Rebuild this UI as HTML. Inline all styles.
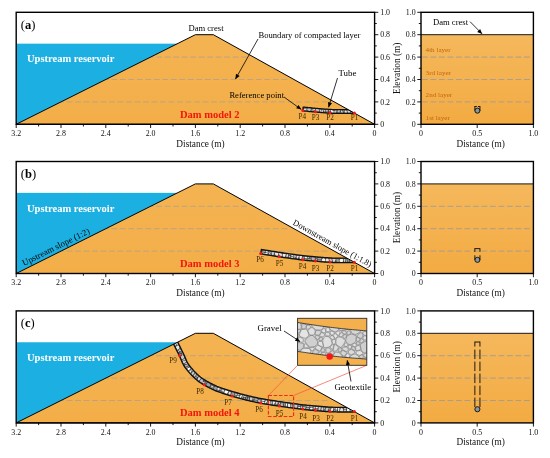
<!DOCTYPE html>
<html><head><meta charset="utf-8"><title>Dam models</title>
<style>html,body{margin:0;padding:0;background:#fff;}svg{display:block;}</style></head>
<body>
<svg width="550" height="458" viewBox="0 0 550 458" font-family="'Liberation Serif', 'Times New Roman', serif">
<defs>
<linearGradient id="og" x1="0" y1="0" x2="0" y2="1"><stop offset="0" stop-color="#f5b85c"/><stop offset="1" stop-color="#f3ab42"/></linearGradient>
<linearGradient id="og2" x1="0" y1="0" x2="0" y2="1"><stop offset="0" stop-color="#f4b352"/><stop offset="1" stop-color="#f3ae48"/></linearGradient>
<marker id="ah" viewBox="0 0 10 10" refX="9.5" refY="5" markerWidth="6.8" markerHeight="5" orient="auto" markerUnits="userSpaceOnUse"><path d="M0,0.8 L10,5 L0,9.2 Z" fill="#000"/></marker>
</defs>
<rect width="550" height="458" fill="#fff"/>
<rect x="16.2" y="43.66" width="161.28" height="80.64" fill="#1cb0e2"/>
<clipPath id="dam0"><polygon points="16.20,124.30 195.40,34.70 213.32,34.70 374.60,124.30"/></clipPath>
<polygon points="16.20,124.30 195.40,34.70 213.32,34.70 374.60,124.30" fill="url(#og2)"/>
<line x1="58.10" y1="101.90" x2="329.92" y2="101.90" stroke="#a8a096" stroke-width="0.75" stroke-dasharray="5.8 2.7" clip-path="url(#dam0)"/>
<line x1="102.90" y1="79.50" x2="289.60" y2="79.50" stroke="#a8a096" stroke-width="0.75" stroke-dasharray="5.8 2.7" clip-path="url(#dam0)"/>
<line x1="147.70" y1="57.10" x2="249.28" y2="57.10" stroke="#a8a096" stroke-width="0.75" stroke-dasharray="5.8 2.7" clip-path="url(#dam0)"/>
<rect x="421.0" y="34.70" width="112.40" height="89.60" fill="url(#og)"/>
<line x1="421.0" y1="34.70" x2="533.4" y2="34.70" stroke="#000" stroke-width="0.9"/>
<line x1="422.0" y1="101.90" x2="532.4" y2="101.90" stroke="#a09c96" stroke-width="0.9" stroke-dasharray="5.8 2.7"/>
<line x1="422.0" y1="79.50" x2="532.4" y2="79.50" stroke="#a09c96" stroke-width="0.9" stroke-dasharray="5.8 2.7"/>
<line x1="422.0" y1="57.10" x2="532.4" y2="57.10" stroke="#a09c96" stroke-width="0.9" stroke-dasharray="5.8 2.7"/>
<rect x="421.0" y="12.3" width="112.40" height="112.0" fill="none" stroke="#000" stroke-width="1.4"/>
<line x1="421.00" y1="124.3" x2="421.00" y2="128.0" stroke="#000" stroke-width="0.9"/>
<text x="421.00" y="135.90" font-size="7.9" text-anchor="middle" fill="#111" font-weight="normal" >0</text>
<line x1="477.20" y1="124.3" x2="477.20" y2="128.0" stroke="#000" stroke-width="0.9"/>
<text x="477.20" y="135.90" font-size="7.9" text-anchor="middle" fill="#111" font-weight="normal" >0.5</text>
<line x1="533.40" y1="124.3" x2="533.40" y2="128.0" stroke="#000" stroke-width="0.9"/>
<text x="533.40" y="135.90" font-size="7.9" text-anchor="middle" fill="#111" font-weight="normal" >1.0</text>
<line x1="417.3" y1="124.30" x2="421.0" y2="124.30" stroke="#000" stroke-width="0.9"/>
<text x="415.60" y="127.00" font-size="7.9" text-anchor="end" fill="#111" font-weight="normal" >0</text>
<line x1="418.8" y1="113.10" x2="421.0" y2="113.10" stroke="#000" stroke-width="0.9"/>
<line x1="417.3" y1="101.90" x2="421.0" y2="101.90" stroke="#000" stroke-width="0.9"/>
<text x="415.60" y="104.60" font-size="7.9" text-anchor="end" fill="#111" font-weight="normal" >0.2</text>
<line x1="418.8" y1="90.70" x2="421.0" y2="90.70" stroke="#000" stroke-width="0.9"/>
<line x1="417.3" y1="79.50" x2="421.0" y2="79.50" stroke="#000" stroke-width="0.9"/>
<text x="415.60" y="82.20" font-size="7.9" text-anchor="end" fill="#111" font-weight="normal" >0.4</text>
<line x1="418.8" y1="68.30" x2="421.0" y2="68.30" stroke="#000" stroke-width="0.9"/>
<line x1="417.3" y1="57.10" x2="421.0" y2="57.10" stroke="#000" stroke-width="0.9"/>
<text x="415.60" y="59.80" font-size="7.9" text-anchor="end" fill="#111" font-weight="normal" >0.6</text>
<line x1="418.8" y1="45.90" x2="421.0" y2="45.90" stroke="#000" stroke-width="0.9"/>
<line x1="417.3" y1="34.70" x2="421.0" y2="34.70" stroke="#000" stroke-width="0.9"/>
<text x="415.60" y="37.40" font-size="7.9" text-anchor="end" fill="#111" font-weight="normal" >0.8</text>
<line x1="418.8" y1="23.50" x2="421.0" y2="23.50" stroke="#000" stroke-width="0.9"/>
<line x1="417.3" y1="12.30" x2="421.0" y2="12.30" stroke="#000" stroke-width="0.9"/>
<text x="415.60" y="15.00" font-size="7.9" text-anchor="end" fill="#111" font-weight="normal" >1.0</text>
<text x="480.70" y="146.70" font-size="9.3" text-anchor="middle" fill="#111" font-weight="normal" >Distance (m)</text>
<rect x="16.2" y="192.86" width="161.28" height="80.64" fill="#1cb0e2"/>
<clipPath id="dam1"><polygon points="16.20,273.50 195.40,183.90 213.32,183.90 374.60,273.50"/></clipPath>
<polygon points="16.20,273.50 195.40,183.90 213.32,183.90 374.60,273.50" fill="url(#og2)"/>
<line x1="58.10" y1="251.10" x2="329.92" y2="251.10" stroke="#a8a096" stroke-width="0.75" stroke-dasharray="5.8 2.7" clip-path="url(#dam1)"/>
<line x1="102.90" y1="228.70" x2="289.60" y2="228.70" stroke="#a8a096" stroke-width="0.75" stroke-dasharray="5.8 2.7" clip-path="url(#dam1)"/>
<line x1="147.70" y1="206.30" x2="249.28" y2="206.30" stroke="#a8a096" stroke-width="0.75" stroke-dasharray="5.8 2.7" clip-path="url(#dam1)"/>
<rect x="421.0" y="183.90" width="112.40" height="89.60" fill="url(#og)"/>
<line x1="421.0" y1="183.90" x2="533.4" y2="183.90" stroke="#000" stroke-width="0.9"/>
<line x1="422.0" y1="251.10" x2="532.4" y2="251.10" stroke="#a09c96" stroke-width="0.9" stroke-dasharray="5.8 2.7"/>
<line x1="422.0" y1="228.70" x2="532.4" y2="228.70" stroke="#a09c96" stroke-width="0.9" stroke-dasharray="5.8 2.7"/>
<line x1="422.0" y1="206.30" x2="532.4" y2="206.30" stroke="#a09c96" stroke-width="0.9" stroke-dasharray="5.8 2.7"/>
<rect x="421.0" y="161.5" width="112.40" height="112.0" fill="none" stroke="#000" stroke-width="1.4"/>
<line x1="421.00" y1="273.5" x2="421.00" y2="277.2" stroke="#000" stroke-width="0.9"/>
<text x="421.00" y="285.10" font-size="7.9" text-anchor="middle" fill="#111" font-weight="normal" >0</text>
<line x1="477.20" y1="273.5" x2="477.20" y2="277.2" stroke="#000" stroke-width="0.9"/>
<text x="477.20" y="285.10" font-size="7.9" text-anchor="middle" fill="#111" font-weight="normal" >0.5</text>
<line x1="533.40" y1="273.5" x2="533.40" y2="277.2" stroke="#000" stroke-width="0.9"/>
<text x="533.40" y="285.10" font-size="7.9" text-anchor="middle" fill="#111" font-weight="normal" >1.0</text>
<line x1="417.3" y1="273.50" x2="421.0" y2="273.50" stroke="#000" stroke-width="0.9"/>
<text x="415.60" y="276.20" font-size="7.9" text-anchor="end" fill="#111" font-weight="normal" >0</text>
<line x1="418.8" y1="262.30" x2="421.0" y2="262.30" stroke="#000" stroke-width="0.9"/>
<line x1="417.3" y1="251.10" x2="421.0" y2="251.10" stroke="#000" stroke-width="0.9"/>
<text x="415.60" y="253.80" font-size="7.9" text-anchor="end" fill="#111" font-weight="normal" >0.2</text>
<line x1="418.8" y1="239.90" x2="421.0" y2="239.90" stroke="#000" stroke-width="0.9"/>
<line x1="417.3" y1="228.70" x2="421.0" y2="228.70" stroke="#000" stroke-width="0.9"/>
<text x="415.60" y="231.40" font-size="7.9" text-anchor="end" fill="#111" font-weight="normal" >0.4</text>
<line x1="418.8" y1="217.50" x2="421.0" y2="217.50" stroke="#000" stroke-width="0.9"/>
<line x1="417.3" y1="206.30" x2="421.0" y2="206.30" stroke="#000" stroke-width="0.9"/>
<text x="415.60" y="209.00" font-size="7.9" text-anchor="end" fill="#111" font-weight="normal" >0.6</text>
<line x1="418.8" y1="195.10" x2="421.0" y2="195.10" stroke="#000" stroke-width="0.9"/>
<line x1="417.3" y1="183.90" x2="421.0" y2="183.90" stroke="#000" stroke-width="0.9"/>
<text x="415.60" y="186.60" font-size="7.9" text-anchor="end" fill="#111" font-weight="normal" >0.8</text>
<line x1="418.8" y1="172.70" x2="421.0" y2="172.70" stroke="#000" stroke-width="0.9"/>
<line x1="417.3" y1="161.50" x2="421.0" y2="161.50" stroke="#000" stroke-width="0.9"/>
<text x="415.60" y="164.20" font-size="7.9" text-anchor="end" fill="#111" font-weight="normal" >1.0</text>
<text x="480.70" y="295.90" font-size="9.3" text-anchor="middle" fill="#111" font-weight="normal" >Distance (m)</text>
<rect x="16.2" y="342.26" width="161.28" height="80.64" fill="#1cb0e2"/>
<clipPath id="dam2"><polygon points="16.20,422.90 195.40,333.30 213.32,333.30 374.60,422.90"/></clipPath>
<polygon points="16.20,422.90 195.40,333.30 213.32,333.30 374.60,422.90" fill="url(#og2)"/>
<line x1="58.10" y1="400.50" x2="329.92" y2="400.50" stroke="#a8a096" stroke-width="0.75" stroke-dasharray="5.8 2.7" clip-path="url(#dam2)"/>
<line x1="102.90" y1="378.10" x2="289.60" y2="378.10" stroke="#a8a096" stroke-width="0.75" stroke-dasharray="5.8 2.7" clip-path="url(#dam2)"/>
<line x1="147.70" y1="355.70" x2="249.28" y2="355.70" stroke="#a8a096" stroke-width="0.75" stroke-dasharray="5.8 2.7" clip-path="url(#dam2)"/>
<rect x="421.0" y="333.30" width="112.40" height="89.60" fill="url(#og)"/>
<line x1="421.0" y1="333.30" x2="533.4" y2="333.30" stroke="#000" stroke-width="0.9"/>
<line x1="422.0" y1="400.50" x2="532.4" y2="400.50" stroke="#a09c96" stroke-width="0.9" stroke-dasharray="5.8 2.7"/>
<line x1="422.0" y1="378.10" x2="532.4" y2="378.10" stroke="#a09c96" stroke-width="0.9" stroke-dasharray="5.8 2.7"/>
<line x1="422.0" y1="355.70" x2="532.4" y2="355.70" stroke="#a09c96" stroke-width="0.9" stroke-dasharray="5.8 2.7"/>
<rect x="421.0" y="310.9" width="112.40" height="112.0" fill="none" stroke="#000" stroke-width="1.4"/>
<line x1="421.00" y1="422.9" x2="421.00" y2="426.59999999999997" stroke="#000" stroke-width="0.9"/>
<text x="421.00" y="434.50" font-size="7.9" text-anchor="middle" fill="#111" font-weight="normal" >0</text>
<line x1="477.20" y1="422.9" x2="477.20" y2="426.59999999999997" stroke="#000" stroke-width="0.9"/>
<text x="477.20" y="434.50" font-size="7.9" text-anchor="middle" fill="#111" font-weight="normal" >0.5</text>
<line x1="533.40" y1="422.9" x2="533.40" y2="426.59999999999997" stroke="#000" stroke-width="0.9"/>
<text x="533.40" y="434.50" font-size="7.9" text-anchor="middle" fill="#111" font-weight="normal" >1.0</text>
<line x1="417.3" y1="422.90" x2="421.0" y2="422.90" stroke="#000" stroke-width="0.9"/>
<text x="415.60" y="425.60" font-size="7.9" text-anchor="end" fill="#111" font-weight="normal" >0</text>
<line x1="418.8" y1="411.70" x2="421.0" y2="411.70" stroke="#000" stroke-width="0.9"/>
<line x1="417.3" y1="400.50" x2="421.0" y2="400.50" stroke="#000" stroke-width="0.9"/>
<text x="415.60" y="403.20" font-size="7.9" text-anchor="end" fill="#111" font-weight="normal" >0.2</text>
<line x1="418.8" y1="389.30" x2="421.0" y2="389.30" stroke="#000" stroke-width="0.9"/>
<line x1="417.3" y1="378.10" x2="421.0" y2="378.10" stroke="#000" stroke-width="0.9"/>
<text x="415.60" y="380.80" font-size="7.9" text-anchor="end" fill="#111" font-weight="normal" >0.4</text>
<line x1="418.8" y1="366.90" x2="421.0" y2="366.90" stroke="#000" stroke-width="0.9"/>
<line x1="417.3" y1="355.70" x2="421.0" y2="355.70" stroke="#000" stroke-width="0.9"/>
<text x="415.60" y="358.40" font-size="7.9" text-anchor="end" fill="#111" font-weight="normal" >0.6</text>
<line x1="418.8" y1="344.50" x2="421.0" y2="344.50" stroke="#000" stroke-width="0.9"/>
<line x1="417.3" y1="333.30" x2="421.0" y2="333.30" stroke="#000" stroke-width="0.9"/>
<text x="415.60" y="336.00" font-size="7.9" text-anchor="end" fill="#111" font-weight="normal" >0.8</text>
<line x1="418.8" y1="322.10" x2="421.0" y2="322.10" stroke="#000" stroke-width="0.9"/>
<line x1="417.3" y1="310.90" x2="421.0" y2="310.90" stroke="#000" stroke-width="0.9"/>
<text x="415.60" y="313.60" font-size="7.9" text-anchor="end" fill="#111" font-weight="normal" >1.0</text>
<text x="480.70" y="445.30" font-size="9.3" text-anchor="middle" fill="#111" font-weight="normal" >Distance (m)</text>
<g clip-path="url(#dam0)">
<polygon points="303.13,107.07 303.88,107.14 304.83,107.23 305.95,107.34 307.21,107.46 308.57,107.59 310.01,107.73 311.48,107.87 312.96,108.01 314.41,108.14 315.80,108.26 317.19,108.38 318.63,108.51 320.10,108.64 321.59,108.77 323.08,108.90 324.57,109.02 326.04,109.13 327.47,109.24 328.86,109.33 330.18,109.40 331.45,109.47 332.68,109.51 333.87,109.55 335.03,109.58 336.18,109.60 337.33,109.62 338.48,109.63 339.64,109.63 340.82,109.64 342.02,109.65 343.26,109.66 344.53,109.66 345.83,109.66 347.14,109.65 348.45,109.64 349.74,109.63 350.99,109.62 352.19,109.61 353.33,109.61 354.38,109.60 355.37,109.59 356.33,109.59 357.25,109.58 358.13,109.58 358.95,109.57 359.71,109.57 360.40,109.56 361.02,109.56 361.54,109.55 361.98,109.55 362.00,113.35 361.57,113.35 361.05,113.36 360.43,113.36 359.74,113.37 358.98,113.37 358.15,113.38 357.27,113.38 356.35,113.39 355.39,113.39 354.40,113.40 353.35,113.41 352.22,113.41 351.02,113.42 349.77,113.43 348.48,113.44 347.16,113.45 345.84,113.46 344.53,113.46 343.24,113.46 342.00,113.45 340.79,113.44 339.61,113.43 338.45,113.43 337.29,113.41 336.13,113.40 334.95,113.38 333.76,113.35 332.54,113.31 331.28,113.26 329.98,113.20 328.62,113.12 327.21,113.03 325.75,112.92 324.27,112.81 322.76,112.68 321.26,112.56 319.77,112.43 318.29,112.30 316.86,112.17 315.47,112.05 314.07,111.93 312.61,111.79 311.12,111.65 309.65,111.51 308.21,111.38 306.85,111.24 305.59,111.12 304.46,111.01 303.51,110.92 302.77,110.85" fill="#484848"/>
<g>
<path d="M304.2,110.3Q305.0,110.5 305.9,110.5Q306.9,110.6 306.8,110.2Q306.7,109.9 306.5,109.5Q306.2,109.1 305.7,109.1Q305.1,109.0 304.4,108.9Q303.7,108.9 303.7,109.2Q303.6,109.6 303.5,109.9Q303.5,110.2 304.2,110.3Z" fill="#dcdcdc"/>
<path d="M304.3,108.4Q305.2,108.5 305.9,108.5Q306.7,108.6 306.7,108.5Q306.7,108.3 306.7,108.2Q306.7,108.1 306.0,108.0Q305.3,107.9 304.7,107.9Q304.2,107.9 303.9,107.9Q303.6,108.0 303.5,108.2Q303.4,108.3 304.3,108.4Z" fill="#c0c0c0"/>
<path d="M308.1,110.7Q309.0,110.8 309.7,110.9Q310.3,110.9 310.5,110.3Q310.7,109.7 311.1,109.1Q311.5,108.6 310.4,108.4Q309.3,108.3 308.5,108.2Q307.8,108.2 307.5,108.8Q307.3,109.4 307.2,110.0Q307.1,110.6 308.1,110.7Z" fill="#c8c8c8"/>
<path d="M311.8,111.1Q312.0,111.1 312.4,111.1Q312.7,111.1 312.7,110.5Q312.7,109.9 312.5,109.3Q312.4,108.6 312.3,108.6Q312.3,108.6 312.1,108.6Q311.9,108.6 311.8,109.2Q311.7,109.8 311.6,110.4Q311.6,111.0 311.8,111.1Z" fill="#c0c0c0"/>
<path d="M313.3,111.2Q314.0,111.3 314.6,111.3Q315.2,111.3 315.1,111.3Q314.9,111.2 314.6,111.1Q314.3,111.0 314.1,111.0Q314.0,110.9 313.9,110.9Q313.8,111.0 313.4,111.0Q313.0,111.0 312.9,111.1Q312.7,111.1 313.3,111.2Z" fill="#f8f8f8"/>
<path d="M313.4,110.4Q314.1,110.5 314.4,110.4Q314.7,110.4 314.8,110.0Q314.8,109.7 314.9,109.3Q315.0,108.9 314.6,108.8Q314.2,108.7 314.1,108.8Q314.1,108.8 313.6,109.1Q313.1,109.5 313.0,109.9Q312.8,110.3 313.4,110.4Z" fill="#e2e2e2"/>
<path d="M316.5,111.5Q317.3,111.6 318.2,111.6Q319.1,111.7 319.2,111.1Q319.2,110.5 319.3,109.9Q319.3,109.3 318.4,109.1Q317.5,109.0 316.6,109.0Q315.6,108.9 315.7,109.5Q315.7,110.2 315.7,110.8Q315.7,111.4 316.5,111.5Z" fill="#c0c0c0"/>
<path d="M320.4,111.8Q320.3,111.9 320.8,111.9Q321.3,111.9 321.2,111.3Q321.1,110.6 320.7,110.0Q320.3,109.3 320.4,109.3Q320.5,109.3 320.0,109.3Q319.6,109.3 319.9,109.9Q320.3,110.6 320.4,111.2Q320.5,111.8 320.4,111.8Z" fill="#f4f4f4"/>
<path d="M321.8,112.0Q322.4,112.0 322.6,112.0Q322.8,112.0 323.0,111.4Q323.1,110.8 323.6,110.2Q324.0,109.7 323.3,109.6Q322.6,109.5 322.3,109.5Q322.0,109.5 321.7,110.1Q321.5,110.7 321.4,111.3Q321.3,111.9 321.8,112.0Z" fill="#c8c8c8"/>
<path d="M324.6,112.2Q324.5,112.2 324.9,112.2Q325.3,112.2 325.2,112.0Q325.1,111.8 324.8,111.6Q324.5,111.4 324.5,111.4Q324.6,111.3 324.1,111.3Q323.7,111.3 324.0,111.5Q324.4,111.8 324.6,112.0Q324.7,112.2 324.6,112.2Z" fill="#ffffff"/>
<path d="M324.3,110.8Q324.6,110.9 325.0,110.9Q325.5,110.9 325.4,110.6Q325.2,110.3 324.9,110.0Q324.5,109.7 324.6,109.7Q324.7,109.6 324.7,109.7Q324.7,109.7 324.4,110.0Q324.1,110.2 324.0,110.5Q323.9,110.7 324.3,110.8Z" fill="#ffffff"/>
<path d="M326.3,112.3Q326.9,112.4 327.3,112.4Q327.7,112.4 327.8,112.2Q327.9,112.0 328.2,111.8Q328.5,111.6 327.7,111.5Q327.0,111.5 326.3,111.4Q325.7,111.4 325.7,111.6Q325.8,111.8 325.8,112.0Q325.8,112.2 326.3,112.3Z" fill="#c0c0c0"/>
<path d="M326.3,110.9Q327.0,111.0 327.3,111.0Q327.7,111.0 327.8,110.7Q328.0,110.5 328.4,110.2Q328.7,110.0 327.9,109.9Q327.1,109.8 326.6,109.8Q326.1,109.8 325.9,110.1Q325.7,110.3 325.6,110.6Q325.5,110.8 326.3,110.9Z" fill="#b4b4b4"/>
<path d="M329.0,112.5Q329.4,112.6 329.4,112.5Q329.4,112.5 329.6,112.4Q329.7,112.3 330.0,112.3Q330.4,112.2 329.9,112.1Q329.5,112.1 329.4,112.1Q329.3,112.1 329.0,112.2Q328.8,112.3 328.7,112.4Q328.6,112.4 329.0,112.5Z" fill="#ffffff"/>
<path d="M329.2,111.6Q329.5,111.6 329.7,111.6Q330.0,111.6 330.0,111.2Q330.0,110.8 330.0,110.5Q330.1,110.1 329.8,110.0Q329.6,110.0 329.3,110.0Q329.1,110.0 329.1,110.4Q329.0,110.8 329.0,111.1Q329.0,111.5 329.2,111.6Z" fill="#c0c0c0"/>
<path d="M331.7,112.6Q332.1,112.7 333.0,112.7Q333.8,112.7 333.8,112.1Q333.7,111.4 333.5,110.8Q333.3,110.2 332.8,110.2Q332.2,110.1 331.3,110.1Q330.3,110.1 330.7,110.7Q331.1,111.4 331.2,112.0Q331.3,112.6 331.7,112.6Z" fill="#eeeeee"/>
<path d="M334.7,112.7Q335.4,112.8 335.8,112.7Q336.2,112.7 336.3,112.1Q336.4,111.5 336.6,110.9Q336.8,110.3 336.2,110.2Q335.5,110.2 335.1,110.2Q334.8,110.3 334.5,110.9Q334.2,111.5 334.1,112.1Q334.0,112.7 334.7,112.7Z" fill="#c8c8c8"/>
<path d="M338.0,112.8Q338.8,112.8 339.8,112.8Q340.7,112.8 340.6,112.6Q340.5,112.5 340.2,112.4Q339.9,112.3 339.3,112.2Q338.8,112.2 338.2,112.2Q337.5,112.3 337.4,112.4Q337.3,112.5 337.3,112.6Q337.2,112.7 338.0,112.8Z" fill="#c0c0c0"/>
<path d="M338.1,111.7Q338.8,111.7 339.3,111.7Q339.7,111.7 339.9,111.3Q340.0,111.0 340.4,110.7Q340.8,110.3 339.8,110.3Q338.8,110.2 338.1,110.3Q337.3,110.3 337.4,110.6Q337.4,111.0 337.4,111.3Q337.5,111.7 338.1,111.7Z" fill="#e8e8e8"/>
<path d="M341.5,112.8Q341.8,112.8 342.3,112.8Q342.8,112.8 342.7,112.2Q342.6,111.6 342.4,110.9Q342.1,110.3 341.9,110.3Q341.8,110.3 341.4,110.3Q341.0,110.3 341.1,110.9Q341.2,111.5 341.2,112.2Q341.3,112.8 341.5,112.8Z" fill="#eeeeee"/>
<path d="M343.5,112.8Q343.6,112.8 343.4,112.8Q343.3,112.8 343.4,112.2Q343.5,111.6 344.0,111.0Q344.4,110.3 344.0,110.3Q343.6,110.3 343.3,110.3Q343.1,110.3 343.2,110.9Q343.4,111.6 343.4,112.2Q343.4,112.8 343.5,112.8Z" fill="#b4b4b4"/>
<path d="M345.2,112.8Q345.7,112.8 346.4,112.8Q347.1,112.8 347.0,112.2Q346.9,111.6 346.6,110.9Q346.3,110.3 346.0,110.3Q345.7,110.3 345.1,110.3Q344.6,110.3 344.6,111.0Q344.7,111.6 344.7,112.2Q344.8,112.8 345.2,112.8Z" fill="#e8e8e8"/>
<path d="M348.4,112.8Q348.7,112.8 349.4,112.8Q350.2,112.7 350.1,112.1Q350.0,111.5 349.7,110.9Q349.4,110.3 349.0,110.3Q348.7,110.3 347.9,110.3Q347.1,110.3 347.4,110.9Q347.8,111.5 347.9,112.2Q348.1,112.8 348.4,112.8Z" fill="#dcdcdc"/>
<path d="M351.0,112.8Q351.2,112.8 351.4,112.8Q351.6,112.7 351.7,112.5Q351.7,112.2 351.8,112.0Q351.9,111.7 351.6,111.7Q351.2,111.7 350.8,111.7Q350.4,111.8 350.6,112.0Q350.8,112.2 350.8,112.5Q350.9,112.7 351.0,112.8Z" fill="#e2e2e2"/>
<path d="M351.0,111.2Q351.2,111.2 351.4,111.2Q351.7,111.1 351.7,110.9Q351.7,110.7 351.8,110.5Q351.9,110.3 351.5,110.3Q351.2,110.2 350.8,110.3Q350.5,110.3 350.6,110.5Q350.7,110.7 350.7,110.9Q350.8,111.1 351.0,111.2Z" fill="#f4f4f4"/>
<path d="M352.6,112.8Q352.9,112.8 353.2,112.8Q353.5,112.7 353.5,112.7Q353.4,112.6 353.1,112.5Q352.8,112.5 352.8,112.4Q352.9,112.4 352.9,112.4Q352.9,112.5 352.7,112.5Q352.5,112.6 352.4,112.7Q352.3,112.7 352.6,112.8Z" fill="#f8f8f8"/>
<path d="M352.7,111.9Q352.9,112.0 353.0,111.9Q353.2,111.9 353.2,111.7Q353.2,111.5 353.1,111.3Q353.1,111.2 353.0,111.1Q352.9,111.1 352.7,111.1Q352.6,111.2 352.6,111.3Q352.6,111.5 352.6,111.7Q352.6,111.9 352.7,111.9Z" fill="#d4d4d4"/>
<path d="M353.0,110.6Q352.9,110.6 352.8,110.6Q352.7,110.6 352.8,110.5Q352.9,110.4 353.3,110.4Q353.6,110.3 353.2,110.3Q352.9,110.2 352.4,110.3Q352.0,110.3 352.5,110.4Q352.9,110.4 353.0,110.5Q353.2,110.6 353.0,110.6Z" fill="#e2e2e2"/>
<path d="M354.7,112.8Q355.7,112.8 356.8,112.7Q357.8,112.7 357.7,112.6Q357.6,112.6 357.2,112.5Q356.8,112.4 356.3,112.4Q355.7,112.4 355.0,112.4Q354.3,112.5 354.1,112.5Q353.8,112.6 353.7,112.7Q353.7,112.7 354.7,112.8Z" fill="#d4d4d4"/>
<path d="M354.5,111.9Q355.7,111.9 356.4,111.9Q357.1,111.8 357.1,111.4Q357.2,111.0 357.4,110.7Q357.6,110.3 356.6,110.2Q355.7,110.2 355.1,110.2Q354.6,110.3 354.1,110.7Q353.7,111.1 353.6,111.5Q353.4,111.8 354.5,111.9Z" fill="#e2e2e2"/>
<path d="M358.4,112.7Q358.7,112.8 359.0,112.7Q359.3,112.7 359.3,112.1Q359.3,111.5 359.2,110.9Q359.1,110.3 358.9,110.2Q358.7,110.2 358.5,110.2Q358.3,110.3 358.2,110.9Q358.1,111.5 358.1,112.1Q358.0,112.7 358.4,112.7Z" fill="#e8e8e8"/>
<path d="M360.4,112.7Q360.4,112.8 360.7,112.7Q361.0,112.7 361.0,112.3Q360.9,111.9 360.7,111.4Q360.5,111.0 360.5,111.0Q360.4,111.0 360.2,111.0Q359.9,111.0 360.0,111.4Q360.2,111.9 360.2,112.3Q360.3,112.7 360.4,112.7Z" fill="#f8f8f8"/>
<path d="M360.5,110.5Q360.4,110.5 360.7,110.5Q360.9,110.4 360.9,110.4Q360.8,110.3 360.7,110.3Q360.7,110.2 360.5,110.2Q360.4,110.2 360.0,110.2Q359.5,110.3 359.9,110.3Q360.3,110.3 360.5,110.4Q360.6,110.4 360.5,110.5Z" fill="#ffffff"/>
<path d="M361.3,112.7Q361.6,112.7 361.7,112.7Q361.7,112.7 361.7,112.3Q361.7,111.9 361.5,111.5Q361.4,111.1 361.5,111.0Q361.6,111.0 361.8,111.0Q362.0,111.1 361.7,111.5Q361.3,111.9 361.2,112.3Q361.1,112.7 361.3,112.7Z" fill="#e2e2e2"/>
<path d="M361.3,110.5Q361.6,110.5 361.5,110.5Q361.3,110.4 361.4,110.4Q361.4,110.3 361.6,110.3Q361.8,110.2 361.7,110.2Q361.6,110.2 361.8,110.2Q362.0,110.2 361.7,110.3Q361.4,110.3 361.2,110.4Q361.1,110.4 361.3,110.5Z" fill="#e8e8e8"/>
</g>
<polygon points="303.13,107.07 303.88,107.14 304.83,107.23 305.95,107.34 307.21,107.46 308.57,107.59 310.01,107.73 311.48,107.87 312.96,108.01 314.41,108.14 315.80,108.26 317.19,108.38 318.63,108.51 320.10,108.64 321.59,108.77 323.08,108.90 324.57,109.02 326.04,109.13 327.47,109.24 328.86,109.33 330.18,109.40 331.45,109.47 332.68,109.51 333.87,109.55 335.03,109.58 336.18,109.60 337.33,109.62 338.48,109.63 339.64,109.63 340.82,109.64 342.02,109.65 343.26,109.66 344.53,109.66 345.83,109.66 347.14,109.65 348.45,109.64 349.74,109.63 350.99,109.62 352.19,109.61 353.33,109.61 354.38,109.60 355.37,109.59 356.33,109.59 357.25,109.58 358.13,109.58 358.95,109.57 359.71,109.57 360.40,109.56 361.02,109.56 361.54,109.55 361.98,109.55 362.00,113.35 361.57,113.35 361.05,113.36 360.43,113.36 359.74,113.37 358.98,113.37 358.15,113.38 357.27,113.38 356.35,113.39 355.39,113.39 354.40,113.40 353.35,113.41 352.22,113.41 351.02,113.42 349.77,113.43 348.48,113.44 347.16,113.45 345.84,113.46 344.53,113.46 343.24,113.46 342.00,113.45 340.79,113.44 339.61,113.43 338.45,113.43 337.29,113.41 336.13,113.40 334.95,113.38 333.76,113.35 332.54,113.31 331.28,113.26 329.98,113.20 328.62,113.12 327.21,113.03 325.75,112.92 324.27,112.81 322.76,112.68 321.26,112.56 319.77,112.43 318.29,112.30 316.86,112.17 315.47,112.05 314.07,111.93 312.61,111.79 311.12,111.65 309.65,111.51 308.21,111.38 306.85,111.24 305.59,111.12 304.46,111.01 303.51,110.92 302.77,110.85" fill="none" stroke="#111" stroke-width="1.25" stroke-linejoin="round"/>
</g>
<g clip-path="url(#dam1)">
<polygon points="261.37,249.40 262.46,249.58 263.83,249.81 265.44,250.08 267.25,250.38 269.21,250.71 271.28,251.05 273.43,251.39 275.61,251.74 277.78,252.08 279.91,252.39 282.09,252.71 284.44,253.05 286.91,253.40 289.43,253.75 291.98,254.10 294.50,254.44 296.93,254.77 299.25,255.07 301.38,255.34 303.30,255.58 304.97,255.78 306.45,255.94 307.76,256.08 308.95,256.19 310.07,256.29 311.15,256.38 312.23,256.47 313.35,256.56 314.55,256.66 315.85,256.77 317.25,256.89 318.69,257.01 320.16,257.14 321.65,257.27 323.14,257.40 324.62,257.52 326.09,257.63 327.52,257.74 328.90,257.83 330.22,257.91 331.48,257.97 332.70,258.02 333.89,258.05 335.05,258.08 336.19,258.10 337.34,258.12 338.48,258.13 339.64,258.13 340.82,258.14 342.03,258.15 343.26,258.16 344.53,258.16 345.83,258.16 347.14,258.15 348.45,258.14 349.73,258.13 350.99,258.12 352.19,258.11 353.32,258.11 354.38,258.10 355.37,258.09 356.32,258.09 357.25,258.08 358.12,258.08 358.95,258.07 359.71,258.07 360.40,258.06 361.01,258.06 361.54,258.05 361.97,258.05 362.00,262.55 361.57,262.55 361.05,262.56 360.43,262.56 359.74,262.57 358.98,262.57 358.15,262.58 357.27,262.58 356.35,262.59 355.39,262.59 354.40,262.60 353.35,262.61 352.22,262.61 351.02,262.62 349.77,262.63 348.48,262.64 347.16,262.65 345.84,262.66 344.53,262.66 343.24,262.66 342.00,262.65 340.79,262.64 339.61,262.63 338.45,262.63 337.29,262.61 336.13,262.60 334.95,262.58 333.76,262.55 332.54,262.51 331.28,262.46 329.98,262.40 328.62,262.32 327.21,262.23 325.75,262.12 324.27,262.01 322.76,261.88 321.26,261.76 319.77,261.63 318.29,261.50 316.86,261.37 315.47,261.25 314.18,261.14 312.99,261.04 311.87,260.96 310.78,260.87 309.68,260.78 308.54,260.67 307.31,260.56 305.96,260.42 304.46,260.25 302.76,260.05 300.82,259.81 298.67,259.53 296.34,259.23 293.90,258.90 291.37,258.56 288.82,258.21 286.28,257.85 283.81,257.51 281.45,257.17 279.25,256.85 277.11,256.52 274.91,256.18 272.72,255.84 270.56,255.49 268.47,255.15 266.51,254.82 264.70,254.52 263.09,254.25 261.73,254.02 260.64,253.85" fill="#484848"/>
<g>
<path d="M261.8,253.3Q261.7,253.3 262.1,253.3Q262.5,253.3 262.5,252.6Q262.5,251.9 262.3,251.1Q262.0,250.3 262.1,250.3Q262.2,250.3 262.0,250.3Q261.7,250.3 261.8,251.0Q261.9,251.8 261.8,252.5Q261.8,253.2 261.8,253.3Z" fill="#d4d4d4"/>
<path d="M263.3,253.5Q263.6,253.6 264.2,253.7Q264.9,253.7 264.8,253.5Q264.7,253.3 264.4,253.0Q264.1,252.8 263.9,252.7Q263.8,252.6 263.3,252.6Q262.8,252.6 262.9,252.8Q263.0,253.0 263.1,253.2Q263.1,253.4 263.3,253.5Z" fill="#eeeeee"/>
<path d="M263.8,252.0Q263.9,252.1 264.0,252.1Q264.1,252.0 264.3,251.7Q264.5,251.4 265.0,251.2Q265.4,250.9 264.8,250.7Q264.1,250.6 263.5,250.5Q262.8,250.5 263.1,250.9Q263.5,251.3 263.6,251.6Q263.6,252.0 263.8,252.0Z" fill="#e2e2e2"/>
<path d="M265.6,253.9Q266.5,254.1 266.9,254.1Q267.3,254.1 267.4,253.9Q267.6,253.7 268.0,253.6Q268.4,253.4 267.5,253.2Q266.7,253.1 266.3,253.0Q265.9,253.0 265.5,253.2Q265.0,253.3 264.8,253.5Q264.6,253.7 265.6,253.9Z" fill="#f4f4f4"/>
<path d="M266.2,252.4Q266.7,252.5 267.7,252.6Q268.6,252.7 268.5,252.4Q268.4,252.1 268.0,251.7Q267.7,251.3 267.3,251.2Q267.0,251.1 266.3,251.0Q265.5,250.9 265.6,251.3Q265.7,251.6 265.7,251.9Q265.7,252.3 266.2,252.4Z" fill="#eeeeee"/>
<path d="M269.0,254.5Q269.5,254.6 270.2,254.6Q270.8,254.7 270.8,254.4Q270.7,254.1 270.5,253.7Q270.2,253.4 270.0,253.3Q269.7,253.2 269.3,253.2Q268.9,253.1 268.8,253.4Q268.7,253.7 268.6,254.0Q268.5,254.3 269.0,254.5Z" fill="#f4f4f4"/>
<path d="M269.4,252.5Q269.8,252.7 270.3,252.7Q270.8,252.7 270.8,252.5Q270.8,252.3 270.9,252.0Q270.9,251.8 270.4,251.7Q270.0,251.6 269.5,251.5Q269.0,251.5 269.0,251.7Q269.0,252.0 269.0,252.2Q268.9,252.4 269.4,252.5Z" fill="#cccccc"/>
<path d="M272.2,255.0Q272.6,255.1 273.0,255.1Q273.4,255.1 273.7,254.4Q273.9,253.7 274.3,253.1Q274.8,252.4 273.9,252.2Q273.0,252.1 272.1,252.0Q271.2,251.9 271.5,252.6Q271.8,253.4 271.8,254.1Q271.8,254.9 272.2,255.0Z" fill="#c8c8c8"/>
<path d="M275.8,255.5Q276.4,255.7 277.1,255.8Q277.9,255.8 278.0,255.1Q278.2,254.4 278.4,253.7Q278.6,253.0 277.7,252.8Q276.8,252.7 275.8,252.5Q274.7,252.4 274.9,253.2Q275.2,253.9 275.2,254.7Q275.2,255.4 275.8,255.5Z" fill="#e8e8e8"/>
<path d="M279.8,256.2Q280.2,256.3 281.0,256.3Q281.8,256.4 281.9,255.7Q281.9,255.0 281.9,254.2Q281.9,253.5 281.3,253.4Q280.7,253.2 279.7,253.1Q278.8,253.0 279.1,253.8Q279.3,254.6 279.3,255.3Q279.3,256.0 279.8,256.2Z" fill="#e2e2e2"/>
<path d="M283.3,256.7Q283.9,256.8 284.5,256.8Q285.0,256.9 285.2,256.2Q285.4,255.5 285.8,254.8Q286.1,254.1 285.2,253.9Q284.3,253.8 283.5,253.7Q282.7,253.6 282.7,254.3Q282.8,255.1 282.7,255.8Q282.7,256.5 283.3,256.7Z" fill="#eeeeee"/>
<path d="M286.7,257.1Q287.0,257.2 287.3,257.2Q287.6,257.2 287.7,256.5Q287.9,255.8 288.2,255.1Q288.4,254.4 287.9,254.3Q287.4,254.2 287.0,254.2Q286.5,254.2 286.5,254.9Q286.5,255.6 286.4,256.3Q286.3,257.0 286.7,257.1Z" fill="#e8e8e8"/>
<path d="M289.1,257.5Q289.3,257.5 289.9,257.6Q290.5,257.6 290.4,257.2Q290.4,256.7 290.0,256.3Q289.7,255.8 289.6,255.7Q289.6,255.7 289.1,255.7Q288.6,255.6 288.8,256.1Q288.9,256.5 288.9,257.0Q288.9,257.4 289.1,257.5Z" fill="#cccccc"/>
<path d="M289.5,255.1Q289.6,255.1 289.7,255.1Q289.9,255.1 290.0,255.0Q290.1,254.9 290.5,254.8Q290.8,254.8 290.3,254.6Q289.7,254.5 289.2,254.5Q288.7,254.5 288.9,254.6Q289.2,254.8 289.3,254.9Q289.4,255.0 289.5,255.1Z" fill="#e2e2e2"/>
<path d="M291.4,257.8Q292.0,257.9 292.6,258.0Q293.3,258.0 293.3,257.8Q293.3,257.6 293.2,257.3Q293.0,257.1 292.6,257.0Q292.1,256.9 291.5,256.8Q290.9,256.8 290.9,257.0Q290.9,257.2 290.9,257.5Q290.8,257.7 291.4,257.8Z" fill="#d4d4d4"/>
<path d="M291.8,256.2Q292.2,256.3 293.0,256.4Q293.9,256.5 293.8,256.1Q293.7,255.8 293.3,255.4Q292.9,255.0 292.6,255.0Q292.4,254.9 291.6,254.8Q290.8,254.8 291.1,255.1Q291.3,255.5 291.4,255.8Q291.4,256.1 291.8,256.2Z" fill="#e2e2e2"/>
<path d="M294.6,258.2Q294.7,258.3 294.9,258.3Q295.0,258.2 295.2,257.5Q295.5,256.8 296.0,256.2Q296.5,255.5 295.8,255.4Q295.1,255.3 294.5,255.2Q293.9,255.2 294.1,255.9Q294.4,256.7 294.4,257.4Q294.4,258.2 294.6,258.2Z" fill="#d4d4d4"/>
<path d="M297.0,258.5Q297.4,258.6 297.6,258.6Q297.8,258.6 298.0,257.9Q298.3,257.2 298.8,256.6Q299.3,255.9 298.5,255.7Q297.8,255.6 297.1,255.6Q296.4,255.5 296.6,256.3Q296.7,257.0 296.7,257.7Q296.7,258.5 297.0,258.5Z" fill="#e8e8e8"/>
<path d="M300.0,258.9Q300.4,259.0 300.9,259.0Q301.4,259.1 301.5,258.4Q301.7,257.7 302.0,257.0Q302.4,256.3 301.6,256.1Q300.8,256.0 300.0,255.9Q299.2,255.9 299.4,256.6Q299.6,257.4 299.6,258.1Q299.6,258.8 300.0,258.9Z" fill="#e8e8e8"/>
<path d="M302.5,259.2Q303.0,259.4 303.3,259.3Q303.5,259.3 303.6,258.6Q303.7,257.9 303.7,257.2Q303.8,256.5 303.6,256.4Q303.4,256.3 303.4,256.4Q303.3,256.4 302.9,257.1Q302.5,257.7 302.3,258.4Q302.1,259.1 302.5,259.2Z" fill="#c0c0c0"/>
<path d="M304.9,259.5Q305.5,259.6 305.9,259.6Q306.3,259.6 306.4,259.5Q306.5,259.4 306.8,259.3Q307.1,259.2 306.3,259.1Q305.6,258.9 305.0,258.9Q304.4,258.9 304.4,259.0Q304.4,259.1 304.3,259.3Q304.3,259.4 304.9,259.5Z" fill="#ffffff"/>
<path d="M305.2,258.3Q305.6,258.4 306.2,258.4Q306.8,258.4 306.9,258.0Q306.9,257.6 306.9,257.2Q306.9,256.8 306.4,256.7Q305.8,256.6 305.1,256.6Q304.4,256.5 304.5,257.0Q304.7,257.4 304.8,257.8Q304.8,258.2 305.2,258.3Z" fill="#ffffff"/>
<path d="M308.0,259.9Q308.1,259.9 308.4,259.9Q308.7,259.9 308.7,259.6Q308.7,259.3 308.7,259.0Q308.8,258.7 308.5,258.7Q308.2,258.6 307.6,258.6Q307.1,258.6 307.4,258.9Q307.8,259.2 307.9,259.5Q308.0,259.8 308.0,259.9Z" fill="#c8c8c8"/>
<path d="M307.8,258.0Q308.2,258.0 308.7,258.0Q309.2,258.0 309.2,257.8Q309.1,257.5 308.8,257.2Q308.5,257.0 308.4,256.9Q308.4,256.9 308.3,256.9Q308.2,256.9 307.8,257.2Q307.5,257.4 307.4,257.6Q307.3,257.9 307.8,258.0Z" fill="#d4d4d4"/>
<path d="M309.5,260.0Q310.0,260.1 310.3,260.1Q310.5,260.0 310.6,259.7Q310.6,259.3 310.7,258.9Q310.7,258.6 310.5,258.5Q310.2,258.4 310.1,258.5Q310.1,258.5 309.7,258.8Q309.3,259.2 309.2,259.5Q309.1,259.9 309.5,260.0Z" fill="#c0c0c0"/>
<path d="M310.2,257.8Q310.2,257.9 310.2,257.8Q310.2,257.8 310.3,257.6Q310.5,257.5 310.9,257.3Q311.4,257.2 310.8,257.1Q310.3,257.0 309.8,257.0Q309.3,257.0 309.6,257.2Q309.9,257.4 310.0,257.6Q310.1,257.8 310.2,257.8Z" fill="#a0a0a0"/>
<path d="M312.4,260.2Q313.1,260.3 313.8,260.3Q314.6,260.4 314.7,259.6Q314.8,258.9 315.0,258.2Q315.2,257.5 314.2,257.4Q313.3,257.3 312.3,257.2Q311.3,257.2 311.5,257.9Q311.7,258.7 311.7,259.4Q311.8,260.1 312.4,260.2Z" fill="#b4b4b4"/>
<path d="M316.1,260.5Q316.1,260.6 316.2,260.5Q316.2,260.5 316.4,260.1Q316.5,259.7 316.9,259.3Q317.3,259.0 316.8,258.9Q316.3,258.8 315.7,258.8Q315.2,258.8 315.6,259.2Q315.9,259.7 316.0,260.1Q316.1,260.5 316.1,260.5Z" fill="#dcdcdc"/>
<path d="M316.3,258.2Q316.3,258.3 316.9,258.3Q317.5,258.3 317.3,258.1Q317.2,258.0 316.8,257.8Q316.3,257.6 316.4,257.6Q316.4,257.5 315.9,257.5Q315.3,257.5 315.7,257.7Q316.0,257.9 316.2,258.0Q316.3,258.2 316.3,258.2Z" fill="#cccccc"/>
<path d="M318.6,260.8Q319.4,260.9 320.0,260.9Q320.6,260.9 320.8,260.7Q321.0,260.6 321.4,260.5Q321.9,260.3 320.6,260.2Q319.4,260.0 318.4,260.0Q317.3,259.9 317.5,260.1Q317.7,260.3 317.7,260.5Q317.8,260.6 318.6,260.8Z" fill="#a0a0a0"/>
<path d="M318.3,259.4Q319.5,259.5 320.4,259.5Q321.3,259.6 321.3,259.2Q321.4,258.8 321.5,258.4Q321.5,258.1 320.6,257.9Q319.6,257.8 318.9,257.8Q318.3,257.8 317.9,258.1Q317.4,258.5 317.3,258.8Q317.1,259.2 318.3,259.4Z" fill="#a0a0a0"/>
<path d="M322.5,261.1Q323.5,261.2 324.4,261.2Q325.2,261.3 325.2,260.5Q325.2,259.8 325.0,259.1Q324.7,258.3 324.2,258.3Q323.7,258.2 323.3,258.2Q322.9,258.2 322.4,258.9Q321.9,259.6 321.7,260.3Q321.5,261.0 322.5,261.1Z" fill="#f4f4f4"/>
<path d="M326.3,261.4Q327.1,261.5 328.0,261.5Q328.9,261.5 328.9,260.8Q328.8,260.1 328.6,259.3Q328.4,258.6 327.9,258.5Q327.3,258.4 326.7,258.4Q326.1,258.4 325.9,259.2Q325.7,259.9 325.6,260.6Q325.5,261.3 326.3,261.4Z" fill="#e8e8e8"/>
<path d="M330.1,261.6Q330.5,261.7 331.2,261.7Q332.0,261.7 331.9,261.0Q331.8,260.2 331.6,259.5Q331.3,258.8 331.0,258.7Q330.6,258.6 330.0,258.7Q329.3,258.7 329.5,259.4Q329.6,260.1 329.6,260.8Q329.7,261.6 330.1,261.6Z" fill="#d4d4d4"/>
<path d="M333.4,261.8Q333.9,261.8 334.4,261.8Q334.9,261.8 335.1,261.1Q335.2,260.3 335.6,259.6Q336.0,258.9 335.0,258.8Q334.0,258.8 333.0,258.8Q332.0,258.8 332.4,259.5Q332.7,260.3 332.8,261.0Q333.0,261.7 333.4,261.8Z" fill="#dcdcdc"/>
<path d="M337.0,261.8Q337.5,261.9 338.3,261.9Q339.0,261.8 339.0,261.1Q338.9,260.4 338.8,259.7Q338.7,258.9 338.1,258.9Q337.6,258.8 336.8,258.9Q336.0,258.9 336.2,259.6Q336.4,260.4 336.5,261.1Q336.5,261.8 337.0,261.8Z" fill="#a0a0a0"/>
<path d="M340.5,261.9Q341.5,261.9 342.3,261.9Q343.1,261.8 343.1,261.1Q343.2,260.4 343.3,259.7Q343.4,259.0 342.4,258.9Q341.5,258.9 340.7,258.9Q339.9,258.9 339.7,259.7Q339.6,260.4 339.5,261.1Q339.5,261.8 340.5,261.9Z" fill="#f8f8f8"/>
<path d="M344.4,261.9Q344.7,261.9 344.9,261.9Q345.0,261.8 345.1,261.1Q345.2,260.4 345.4,259.7Q345.6,259.0 345.1,258.9Q344.7,258.9 344.4,258.9Q344.0,259.0 344.1,259.7Q344.1,260.4 344.1,261.1Q344.1,261.8 344.4,261.9Z" fill="#e2e2e2"/>
<path d="M346.2,261.9Q346.8,261.9 347.1,261.9Q347.3,261.8 347.3,261.1Q347.4,260.4 347.5,259.7Q347.6,259.0 347.2,258.9Q346.8,258.9 346.8,258.9Q346.7,259.0 346.3,259.7Q345.9,260.4 345.7,261.1Q345.6,261.8 346.2,261.9Z" fill="#a0a0a0"/>
<path d="M348.7,261.9Q348.7,261.9 348.9,261.9Q349.1,261.8 349.1,261.1Q349.1,260.4 349.0,259.7Q349.0,259.0 348.8,258.9Q348.7,258.9 348.3,258.9Q347.9,259.0 348.2,259.7Q348.5,260.4 348.6,261.1Q348.7,261.8 348.7,261.9Z" fill="#e2e2e2"/>
<path d="M350.1,261.9Q350.3,261.9 350.5,261.9Q350.6,261.8 350.7,261.1Q350.7,260.4 350.8,259.7Q350.8,258.9 350.6,258.9Q350.3,258.9 350.1,258.9Q349.8,258.9 349.9,259.7Q349.9,260.4 349.9,261.1Q349.9,261.8 350.1,261.9Z" fill="#c8c8c8"/>
<path d="M351.9,261.9Q352.8,261.9 353.3,261.8Q353.8,261.8 353.9,261.1Q353.9,260.4 353.9,259.6Q354.0,258.9 353.4,258.9Q352.7,258.8 352.4,258.9Q352.0,258.9 351.7,259.6Q351.4,260.4 351.2,261.1Q351.1,261.8 351.9,261.9Z" fill="#e2e2e2"/>
<path d="M355.6,261.8Q356.2,261.9 357.2,261.8Q358.2,261.8 358.1,261.0Q357.9,260.3 357.6,259.6Q357.2,258.9 356.7,258.9Q356.2,258.8 355.4,258.9Q354.6,258.9 354.7,259.6Q354.8,260.3 354.9,261.1Q354.9,261.8 355.6,261.8Z" fill="#e8e8e8"/>
<path d="M358.4,261.8Q358.8,261.9 358.8,261.8Q358.8,261.8 358.9,261.0Q358.9,260.3 359.1,259.6Q359.3,258.9 359.0,258.8Q358.8,258.8 358.9,258.8Q359.1,258.9 358.7,259.6Q358.2,260.3 358.1,261.0Q357.9,261.8 358.4,261.8Z" fill="#d4d4d4"/>
<path d="M360.3,261.8Q360.7,261.8 361.2,261.8Q361.7,261.7 361.6,261.0Q361.6,260.3 361.5,259.6Q361.5,258.9 361.1,258.8Q360.7,258.8 360.3,258.8Q359.9,258.9 359.9,259.6Q359.9,260.3 359.9,261.0Q359.9,261.8 360.3,261.8Z" fill="#a0a0a0"/>
</g>
<polygon points="261.37,249.40 262.46,249.58 263.83,249.81 265.44,250.08 267.25,250.38 269.21,250.71 271.28,251.05 273.43,251.39 275.61,251.74 277.78,252.08 279.91,252.39 282.09,252.71 284.44,253.05 286.91,253.40 289.43,253.75 291.98,254.10 294.50,254.44 296.93,254.77 299.25,255.07 301.38,255.34 303.30,255.58 304.97,255.78 306.45,255.94 307.76,256.08 308.95,256.19 310.07,256.29 311.15,256.38 312.23,256.47 313.35,256.56 314.55,256.66 315.85,256.77 317.25,256.89 318.69,257.01 320.16,257.14 321.65,257.27 323.14,257.40 324.62,257.52 326.09,257.63 327.52,257.74 328.90,257.83 330.22,257.91 331.48,257.97 332.70,258.02 333.89,258.05 335.05,258.08 336.19,258.10 337.34,258.12 338.48,258.13 339.64,258.13 340.82,258.14 342.03,258.15 343.26,258.16 344.53,258.16 345.83,258.16 347.14,258.15 348.45,258.14 349.73,258.13 350.99,258.12 352.19,258.11 353.32,258.11 354.38,258.10 355.37,258.09 356.32,258.09 357.25,258.08 358.12,258.08 358.95,258.07 359.71,258.07 360.40,258.06 361.01,258.06 361.54,258.05 361.97,258.05 362.00,262.55 361.57,262.55 361.05,262.56 360.43,262.56 359.74,262.57 358.98,262.57 358.15,262.58 357.27,262.58 356.35,262.59 355.39,262.59 354.40,262.60 353.35,262.61 352.22,262.61 351.02,262.62 349.77,262.63 348.48,262.64 347.16,262.65 345.84,262.66 344.53,262.66 343.24,262.66 342.00,262.65 340.79,262.64 339.61,262.63 338.45,262.63 337.29,262.61 336.13,262.60 334.95,262.58 333.76,262.55 332.54,262.51 331.28,262.46 329.98,262.40 328.62,262.32 327.21,262.23 325.75,262.12 324.27,262.01 322.76,261.88 321.26,261.76 319.77,261.63 318.29,261.50 316.86,261.37 315.47,261.25 314.18,261.14 312.99,261.04 311.87,260.96 310.78,260.87 309.68,260.78 308.54,260.67 307.31,260.56 305.96,260.42 304.46,260.25 302.76,260.05 300.82,259.81 298.67,259.53 296.34,259.23 293.90,258.90 291.37,258.56 288.82,258.21 286.28,257.85 283.81,257.51 281.45,257.17 279.25,256.85 277.11,256.52 274.91,256.18 272.72,255.84 270.56,255.49 268.47,255.15 266.51,254.82 264.70,254.52 263.09,254.25 261.73,254.02 260.64,253.85" fill="none" stroke="#111" stroke-width="1.25" stroke-linejoin="round"/>
</g>
<g clip-path="url(#dam2)">
<polygon points="175.37,337.41 175.49,337.64 175.62,337.89 175.77,338.18 175.95,338.53 176.15,338.92 176.39,339.38 176.66,339.90 176.96,340.50 177.30,341.18 177.69,341.95 178.13,342.84 178.63,343.84 179.18,344.95 179.77,346.14 180.39,347.38 181.02,348.66 181.66,349.95 182.30,351.23 182.91,352.48 183.52,353.71 184.10,354.95 184.65,356.19 185.16,357.38 185.64,358.53 186.11,359.63 186.58,360.69 187.07,361.71 187.59,362.70 188.15,363.67 188.78,364.63 189.52,365.65 190.38,366.75 191.31,367.88 192.31,369.03 193.35,370.19 194.41,371.32 195.47,372.42 196.51,373.46 197.51,374.42 198.44,375.30 199.29,376.06 200.07,376.72 200.80,377.31 201.51,377.84 202.22,378.34 202.96,378.82 203.73,379.31 204.57,379.82 205.49,380.36 206.48,380.94 207.52,381.54 208.59,382.14 209.69,382.74 210.82,383.34 211.98,383.93 213.17,384.52 214.39,385.10 215.64,385.67 216.92,386.23 218.22,386.76 219.57,387.28 221.00,387.81 222.49,388.33 224.04,388.84 225.62,389.35 227.22,389.85 228.82,390.34 230.40,390.81 231.95,391.28 233.45,391.73 234.89,392.17 236.28,392.58 237.65,392.97 238.99,393.36 240.31,393.73 241.63,394.09 242.96,394.44 244.29,394.79 245.65,395.13 247.04,395.48 248.44,395.82 249.82,396.15 251.20,396.47 252.59,396.79 253.98,397.10 255.40,397.41 256.85,397.71 258.35,398.02 259.89,398.32 261.50,398.62 263.15,398.93 264.84,399.22 266.56,399.52 268.33,399.81 270.14,400.10 271.99,400.40 273.90,400.69 275.85,400.99 277.86,401.29 279.93,401.60 282.12,401.92 284.47,402.25 286.93,402.60 289.46,402.95 292.01,403.30 294.52,403.64 296.96,403.97 299.27,404.27 301.41,404.54 303.32,404.78 305.00,404.98 306.47,405.14 307.78,405.28 308.97,405.40 310.09,405.49 311.16,405.58 312.24,405.67 313.36,405.76 314.56,405.86 315.87,405.97 317.27,406.09 318.71,406.21 320.18,406.34 321.66,406.47 323.16,406.60 324.64,406.72 326.10,406.84 327.53,406.94 328.91,407.03 330.23,407.11 331.49,407.17 332.71,407.22 333.89,407.25 335.05,407.28 336.20,407.30 337.34,407.32 338.48,407.33 339.64,407.33 340.82,407.34 342.03,407.35 343.26,407.36 344.53,407.36 345.83,407.36 347.14,407.35 348.45,407.34 349.73,407.33 350.99,407.32 352.19,407.31 353.32,407.31 354.38,407.30 355.36,407.29 356.32,407.29 357.24,407.28 358.12,407.28 358.94,407.27 359.71,407.27 360.40,407.26 361.01,407.26 361.54,407.25 361.97,407.25 362.00,411.95 361.57,411.95 361.05,411.96 360.43,411.96 359.74,411.97 358.98,411.97 358.15,411.98 357.27,411.98 356.35,411.99 355.39,411.99 354.40,412.00 353.35,412.01 352.22,412.01 351.02,412.02 349.77,412.03 348.48,412.04 347.16,412.05 345.84,412.06 344.53,412.06 343.24,412.06 342.00,412.05 340.79,412.04 339.61,412.03 338.45,412.03 337.29,412.01 336.13,412.00 334.95,411.98 333.76,411.95 332.54,411.91 331.28,411.86 329.98,411.80 328.62,411.72 327.21,411.63 325.75,411.52 324.27,411.41 322.76,411.28 321.26,411.16 319.77,411.03 318.29,410.90 316.86,410.77 315.47,410.65 314.18,410.54 312.99,410.44 311.87,410.36 310.78,410.27 309.68,410.18 308.54,410.07 307.31,409.96 305.96,409.82 304.46,409.65 302.76,409.45 300.82,409.21 298.67,408.93 296.34,408.63 293.90,408.30 291.37,407.96 288.82,407.61 286.28,407.25 283.81,406.91 281.45,406.57 279.25,406.25 277.17,405.94 275.15,405.64 273.18,405.34 271.27,405.04 269.39,404.75 267.57,404.45 265.78,404.15 264.03,403.85 262.32,403.55 260.64,403.24 259.00,402.93 257.43,402.63 255.90,402.32 254.42,402.01 252.97,401.69 251.55,401.37 250.14,401.05 248.74,400.72 247.33,400.39 245.92,400.04 244.51,399.69 243.12,399.34 241.76,398.98 240.41,398.62 239.06,398.26 237.71,397.88 236.35,397.49 234.96,397.09 233.55,396.67 232.10,396.24 230.60,395.78 229.04,395.31 227.45,394.83 225.83,394.34 224.20,393.83 222.58,393.31 220.98,392.78 219.42,392.23 217.91,391.68 216.47,391.12 215.08,390.55 213.73,389.97 212.41,389.36 211.12,388.75 209.87,388.13 208.65,387.51 207.46,386.88 206.31,386.25 205.20,385.62 204.12,385.00 203.11,384.41 202.16,383.85 201.27,383.31 200.41,382.77 199.58,382.22 198.75,381.64 197.93,381.02 197.08,380.34 196.19,379.59 195.26,378.76 194.27,377.82 193.22,376.80 192.12,375.71 191.01,374.56 189.89,373.37 188.79,372.15 187.72,370.92 186.71,369.69 185.77,368.48 184.91,367.30 184.15,366.14 183.48,364.98 182.87,363.82 182.31,362.66 181.80,361.51 181.31,360.36 180.82,359.20 180.34,358.05 179.83,356.90 179.28,355.75 178.70,354.56 178.08,353.31 177.45,352.03 176.81,350.74 176.18,349.47 175.56,348.23 174.98,347.04 174.43,345.94 173.93,344.94 173.49,344.06 173.11,343.30 172.77,342.63 172.47,342.04 172.21,341.53 171.98,341.08 171.78,340.69 171.60,340.35 171.45,340.06 171.31,339.80 171.19,339.56" fill="#484848"/>
<g>
<path d="M172.6,340.5Q172.8,341.1 173.2,341.7Q173.5,342.3 174.2,342.0Q174.9,341.6 175.6,341.4Q176.3,341.1 176.0,340.4Q175.7,339.7 175.3,339.0Q174.9,338.4 174.3,338.8Q173.6,339.1 173.0,339.5Q172.3,339.8 172.6,340.5Z" fill="#eeeeee"/>
<path d="M174.3,344.0Q174.5,344.5 174.9,345.1Q175.3,345.7 175.5,345.6Q175.8,345.5 176.1,345.3Q176.3,345.1 176.0,344.5Q175.8,343.8 175.3,343.0Q174.8,342.2 174.7,342.6Q174.6,343.0 174.4,343.3Q174.2,343.5 174.3,344.0Z" fill="#dcdcdc"/>
<path d="M176.0,342.9Q176.3,343.6 176.7,344.4Q177.2,345.2 177.4,345.0Q177.6,344.8 177.7,344.4Q177.8,344.0 177.6,343.5Q177.4,343.0 177.0,342.4Q176.6,341.7 176.4,341.9Q176.2,342.0 176.0,342.1Q175.7,342.3 176.0,342.9Z" fill="#f8f8f8"/>
<path d="M176.1,347.4Q176.3,348.1 176.9,349.1Q177.4,350.0 178.0,349.6Q178.7,349.2 179.2,348.6Q179.8,348.0 179.5,347.3Q179.2,346.7 178.7,345.8Q178.2,344.9 177.6,345.4Q177.0,345.9 176.4,346.3Q175.8,346.7 176.1,347.4Z" fill="#e8e8e8"/>
<path d="M177.9,351.1Q178.0,351.4 178.2,351.7Q178.3,351.9 178.5,352.0Q178.7,352.0 178.9,352.2Q179.2,352.3 178.9,351.7Q178.6,351.1 178.3,350.5Q177.9,349.9 177.9,350.2Q177.9,350.5 177.8,350.6Q177.7,350.7 177.9,351.1Z" fill="#f4f4f4"/>
<path d="M178.9,350.1Q179.1,350.8 179.3,351.1Q179.5,351.4 180.0,351.3Q180.4,351.2 180.9,351.2Q181.3,351.2 181.1,350.6Q180.8,350.0 180.7,349.7Q180.5,349.5 180.0,349.4Q179.4,349.3 179.0,349.4Q178.6,349.5 178.9,350.1Z" fill="#d4d4d4"/>
<path d="M179.0,353.4Q178.9,353.3 179.0,353.4Q179.1,353.5 179.8,353.2Q180.5,352.9 181.2,352.6Q181.9,352.3 181.9,352.1Q181.8,351.9 181.6,351.6Q181.4,351.3 180.9,351.9Q180.3,352.5 179.7,352.9Q179.1,353.4 179.0,353.4Z" fill="#c8c8c8"/>
<path d="M179.5,354.4Q179.7,354.9 179.9,355.2Q180.1,355.5 180.5,355.3Q180.8,355.1 181.2,354.8Q181.5,354.6 181.5,354.3Q181.4,354.1 181.3,354.1Q181.3,354.0 180.7,353.9Q180.2,353.8 179.8,353.8Q179.3,353.9 179.5,354.4Z" fill="#b4b4b4"/>
<path d="M181.9,353.8Q181.9,353.8 182.2,354.4Q182.5,354.9 182.6,354.7Q182.6,354.5 182.6,354.0Q182.5,353.6 182.5,353.5Q182.6,353.5 182.3,353.0Q182.0,352.6 182.1,353.0Q182.1,353.4 182.0,353.5Q181.9,353.7 181.9,353.8Z" fill="#f4f4f4"/>
<path d="M180.8,357.2Q181.0,357.7 181.5,358.7Q181.9,359.6 182.6,359.2Q183.2,358.8 183.8,358.3Q184.4,357.7 184.2,357.1Q184.0,356.5 183.4,355.4Q182.9,354.3 182.4,355.1Q181.9,355.8 181.3,356.3Q180.7,356.7 180.8,357.2Z" fill="#c8c8c8"/>
<path d="M182.2,360.3Q182.1,360.4 182.3,360.6Q182.4,360.8 183.1,360.5Q183.8,360.2 184.4,359.8Q185.1,359.4 185.1,359.3Q185.1,359.1 184.9,358.8Q184.7,358.6 184.1,359.1Q183.5,359.6 182.9,359.9Q182.2,360.3 182.2,360.3Z" fill="#f8f8f8"/>
<path d="M182.8,361.8Q183.1,362.5 183.4,363.1Q183.8,363.8 184.4,363.3Q185.0,362.9 185.6,362.3Q186.1,361.7 186.0,361.4Q186.0,361.1 185.8,360.8Q185.6,360.5 184.8,360.6Q184.0,360.7 183.3,360.9Q182.6,361.1 182.8,361.8Z" fill="#cccccc"/>
<path d="M184.1,364.4Q184.1,364.5 184.1,364.5Q184.1,364.4 184.8,364.1Q185.6,363.9 186.4,363.8Q187.2,363.7 187.0,363.4Q186.9,363.0 186.7,362.8Q186.6,362.6 186.0,363.0Q185.4,363.5 184.7,363.9Q184.1,364.3 184.1,364.4Z" fill="#f4f4f4"/>
<path d="M184.9,365.9Q185.2,366.3 185.4,366.6Q185.6,366.8 186.2,366.4Q186.9,366.0 187.7,365.8Q188.4,365.6 188.1,365.1Q187.9,364.6 187.6,364.3Q187.4,364.1 186.7,364.4Q186.0,364.7 185.4,365.0Q184.7,365.4 184.9,365.9Z" fill="#b4b4b4"/>
<path d="M186.2,367.8Q186.4,368.1 186.5,368.2Q186.7,368.3 187.3,367.8Q187.9,367.4 188.5,367.0Q189.2,366.6 189.1,366.4Q189.0,366.2 188.9,366.2Q188.9,366.2 188.1,366.4Q187.4,366.7 186.7,367.0Q186.0,367.4 186.2,367.8Z" fill="#b4b4b4"/>
<path d="M187.4,369.2Q187.8,369.8 188.1,370.1Q188.4,370.4 189.0,370.0Q189.6,369.5 190.1,369.0Q190.7,368.5 190.5,368.1Q190.2,367.7 190.0,367.6Q189.8,367.4 189.1,367.7Q188.3,367.9 187.7,368.3Q187.0,368.7 187.4,369.2Z" fill="#ffffff"/>
<path d="M189.4,371.7Q189.6,372.0 190.1,372.4Q190.6,372.9 190.8,372.6Q191.1,372.3 191.3,372.0Q191.5,371.6 191.2,371.2Q190.9,370.8 190.4,370.3Q189.8,369.8 189.8,370.2Q189.7,370.7 189.5,371.1Q189.2,371.4 189.4,371.7Z" fill="#eeeeee"/>
<path d="M191.0,370.1Q191.3,370.5 191.6,370.7Q191.9,371.0 192.1,370.9Q192.3,370.8 192.6,370.9Q192.9,371.0 192.5,370.4Q192.0,369.8 191.6,369.4Q191.2,369.0 191.1,369.2Q191.0,369.4 190.9,369.5Q190.7,369.6 191.0,370.1Z" fill="#f8f8f8"/>
<path d="M191.6,374.0Q191.7,374.2 192.2,374.7Q192.8,375.2 193.3,374.6Q193.7,374.0 194.1,373.3Q194.5,372.6 194.3,372.3Q194.0,372.0 193.5,371.5Q192.9,371.0 192.6,371.7Q192.3,372.5 191.8,373.1Q191.4,373.7 191.6,374.0Z" fill="#c8c8c8"/>
<path d="M193.6,376.0Q193.6,376.2 194.1,376.6Q194.6,376.9 195.0,376.3Q195.5,375.7 195.7,374.9Q196.0,374.2 196.0,374.0Q195.9,373.9 195.4,373.5Q195.0,373.1 194.7,373.9Q194.4,374.6 193.9,375.3Q193.5,375.9 193.6,376.0Z" fill="#d4d4d4"/>
<path d="M195.3,377.7Q195.6,378.0 195.8,378.2Q196.1,378.3 196.3,378.2Q196.6,378.1 197.0,378.2Q197.4,378.3 196.9,377.7Q196.3,377.2 195.8,376.8Q195.3,376.3 195.3,376.6Q195.3,377.0 195.2,377.2Q195.0,377.4 195.3,377.7Z" fill="#b4b4b4"/>
<path d="M196.3,376.3Q196.7,376.8 197.0,376.9Q197.2,377.1 197.5,376.9Q197.8,376.8 198.3,376.7Q198.8,376.7 198.3,376.2Q197.7,375.7 197.4,375.4Q197.1,375.2 196.7,375.3Q196.4,375.4 196.1,375.6Q195.9,375.8 196.3,376.3Z" fill="#b4b4b4"/>
<path d="M197.7,379.8Q198.0,380.1 198.4,380.4Q198.9,380.7 199.4,380.1Q199.9,379.5 200.4,379.0Q201.0,378.5 200.5,378.1Q200.0,377.6 199.3,377.1Q198.6,376.6 198.4,377.4Q198.2,378.2 197.8,378.9Q197.5,379.6 197.7,379.8Z" fill="#dcdcdc"/>
<path d="M200.2,381.6Q200.7,382.1 201.6,382.5Q202.4,383.0 202.7,382.3Q202.9,381.6 202.9,380.7Q203.0,379.8 202.7,379.6Q202.5,379.4 202.0,379.1Q201.5,378.9 201.0,379.5Q200.5,380.0 200.1,380.6Q199.6,381.2 200.2,381.6Z" fill="#c0c0c0"/>
<path d="M202.6,383.2Q203.2,383.6 203.6,383.8Q204.0,383.9 204.2,383.5Q204.4,383.0 204.6,382.5Q204.8,382.1 204.5,381.9Q204.3,381.7 204.2,381.7Q204.1,381.7 203.5,381.9Q202.9,382.1 202.5,382.5Q202.1,382.8 202.6,383.2Z" fill="#d4d4d4"/>
<path d="M204.2,380.9Q204.6,381.2 204.9,381.3Q205.2,381.4 205.3,381.4Q205.3,381.4 205.4,381.3Q205.4,381.3 205.1,381.1Q204.8,380.8 204.6,380.8Q204.4,380.7 204.2,380.6Q203.9,380.6 203.9,380.6Q203.8,380.6 204.2,380.9Z" fill="#a0a0a0"/>
<path d="M204.6,384.4Q204.9,384.6 205.0,384.6Q205.1,384.6 205.2,384.6Q205.3,384.6 205.5,384.6Q205.7,384.7 205.4,384.5Q205.1,384.3 205.0,384.3Q204.9,384.3 204.7,384.2Q204.5,384.1 204.4,384.1Q204.3,384.2 204.6,384.4Z" fill="#b4b4b4"/>
<path d="M205.3,383.6Q205.4,383.8 205.6,383.8Q205.8,383.9 206.1,383.5Q206.3,383.0 206.6,382.6Q206.8,382.1 206.7,382.0Q206.5,381.8 206.3,381.7Q206.1,381.7 205.8,382.1Q205.6,382.6 205.4,383.0Q205.1,383.5 205.3,383.6Z" fill="#a0a0a0"/>
<path d="M206.8,385.6Q207.6,386.1 208.5,386.5Q209.4,386.9 209.7,386.2Q210.0,385.5 210.2,384.8Q210.4,384.1 209.8,383.7Q209.1,383.3 208.4,382.9Q207.6,382.6 207.2,383.2Q206.8,383.8 206.4,384.5Q206.0,385.1 206.8,385.6Z" fill="#a0a0a0"/>
<path d="M210.6,387.6Q211.4,388.0 212.4,388.5Q213.4,388.9 213.4,388.8Q213.3,388.6 212.9,388.4Q212.6,388.1 212.1,387.8Q211.6,387.5 210.9,387.2Q210.2,387.0 210.1,387.0Q210.0,387.0 209.9,387.1Q209.8,387.2 210.6,387.6Z" fill="#e2e2e2"/>
<path d="M211.2,386.6Q211.9,387.0 212.7,387.4Q213.5,387.7 213.6,387.5Q213.7,387.3 213.7,387.0Q213.7,386.8 213.0,386.4Q212.4,386.0 211.6,385.7Q210.8,385.4 210.8,385.6Q210.7,385.8 210.6,386.0Q210.5,386.2 211.2,386.6Z" fill="#eeeeee"/>
<path d="M212.1,385.2Q212.6,385.5 213.3,385.8Q214.0,386.1 214.1,386.1Q214.1,386.0 214.2,386.0Q214.3,386.0 213.5,385.6Q212.8,385.2 211.8,384.7Q210.8,384.3 211.2,384.5Q211.5,384.8 211.6,384.9Q211.7,385.0 212.1,385.2Z" fill="#a0a0a0"/>
<path d="M214.2,389.3Q214.9,389.6 215.6,389.9Q216.3,390.1 216.5,389.4Q216.8,388.7 216.9,388.0Q217.1,387.2 216.6,387.0Q216.1,386.7 215.6,386.5Q215.2,386.4 214.7,387.0Q214.2,387.6 213.8,388.3Q213.5,388.9 214.2,389.3Z" fill="#a0a0a0"/>
<path d="M217.5,390.7Q217.8,390.8 218.4,391.0Q218.9,391.1 218.9,391.1Q218.9,391.0 218.9,390.9Q218.8,390.9 218.4,390.6Q218.0,390.4 217.3,390.2Q216.7,390.0 216.9,390.2Q217.1,390.3 217.1,390.4Q217.2,390.5 217.5,390.7Z" fill="#c0c0c0"/>
<path d="M217.5,389.6Q218.2,389.9 218.8,390.1Q219.4,390.3 219.5,389.8Q219.6,389.3 219.6,388.7Q219.6,388.2 219.3,388.0Q219.0,387.9 218.7,387.8Q218.4,387.7 217.9,388.1Q217.4,388.4 217.2,388.9Q216.9,389.3 217.5,389.6Z" fill="#eeeeee"/>
<path d="M220.1,391.6Q220.0,391.6 220.5,391.8Q221.0,391.9 220.9,391.8Q220.8,391.7 220.4,391.5Q220.1,391.3 220.1,391.2Q220.2,391.2 219.7,391.1Q219.2,390.9 219.5,391.1Q219.9,391.4 220.0,391.5Q220.1,391.6 220.1,391.6Z" fill="#f4f4f4"/>
<path d="M220.3,390.6Q220.4,390.7 220.4,390.6Q220.5,390.6 220.8,390.2Q221.0,389.7 221.4,389.4Q221.8,389.0 221.4,388.8Q221.1,388.6 220.7,388.5Q220.3,388.4 220.4,389.0Q220.4,389.6 220.4,390.0Q220.3,390.5 220.3,390.6Z" fill="#d4d4d4"/>
<path d="M221.6,392.1Q222.3,392.4 223.1,392.6Q223.8,392.8 223.7,392.7Q223.7,392.6 223.4,392.5Q223.2,392.3 222.8,392.2Q222.5,392.0 222.2,391.9Q221.8,391.9 221.5,391.8Q221.1,391.8 221.0,391.8Q220.8,391.8 221.6,392.1Z" fill="#e2e2e2"/>
<path d="M221.9,391.2Q222.7,391.5 223.5,391.7Q224.3,391.9 224.3,391.4Q224.3,390.9 224.1,390.3Q223.9,389.7 223.6,389.5Q223.3,389.4 223.0,389.3Q222.6,389.3 222.2,389.6Q221.7,390.0 221.5,390.4Q221.2,390.9 221.9,391.2Z" fill="#dcdcdc"/>
<path d="M225.0,393.2Q225.8,393.6 226.5,393.7Q227.1,393.8 227.4,393.1Q227.7,392.5 228.3,391.8Q228.8,391.2 227.8,390.9Q226.8,390.5 226.0,390.3Q225.3,390.1 225.0,390.8Q224.7,391.5 224.4,392.2Q224.2,392.9 225.0,393.2Z" fill="#ffffff"/>
<path d="M228.7,394.4Q229.2,394.6 229.8,394.7Q230.4,394.8 230.6,394.1Q230.7,393.4 230.8,392.6Q230.9,391.8 230.5,391.7Q230.1,391.5 229.7,391.4Q229.2,391.3 229.0,392.1Q228.7,392.8 228.5,393.5Q228.2,394.2 228.7,394.4Z" fill="#e2e2e2"/>
<path d="M231.6,395.3Q232.4,395.5 233.2,395.7Q234.1,395.9 234.2,395.2Q234.3,394.5 234.3,393.7Q234.3,392.9 233.8,392.7Q233.3,392.5 232.6,392.3Q232.0,392.2 231.7,392.9Q231.4,393.6 231.2,394.3Q230.9,395.0 231.6,395.3Z" fill="#a0a0a0"/>
<path d="M234.7,396.2Q235.3,396.4 236.0,396.5Q236.6,396.7 236.5,396.5Q236.5,396.3 236.2,396.1Q235.9,395.8 235.7,395.7Q235.6,395.6 235.4,395.6Q235.2,395.6 234.8,395.7Q234.4,395.7 234.3,395.8Q234.1,396.0 234.7,396.2Z" fill="#c8c8c8"/>
<path d="M235.3,394.9Q235.7,395.1 236.3,395.2Q236.9,395.3 236.9,394.9Q237.0,394.5 236.8,394.0Q236.6,393.5 236.4,393.4Q236.2,393.3 235.8,393.3Q235.4,393.2 235.3,393.6Q235.2,394.0 235.1,394.4Q235.0,394.8 235.3,394.9Z" fill="#cccccc"/>
<path d="M237.2,396.9Q237.9,397.2 238.3,397.2Q238.7,397.3 238.8,396.9Q239.0,396.6 239.3,396.3Q239.6,396.0 239.0,395.7Q238.4,395.5 238.0,395.5Q237.7,395.4 237.3,395.7Q237.0,396.0 236.8,396.3Q236.6,396.7 237.2,396.9Z" fill="#dcdcdc"/>
<path d="M237.9,394.7Q238.5,395.0 238.9,395.0Q239.2,395.1 239.4,394.9Q239.5,394.8 239.7,394.6Q240.0,394.5 239.4,394.3Q238.8,394.1 238.5,394.0Q238.1,394.0 237.8,394.1Q237.5,394.2 237.4,394.4Q237.2,394.5 237.9,394.7Z" fill="#c0c0c0"/>
<path d="M239.8,397.6Q240.5,397.9 240.7,397.9Q241.0,397.9 241.3,397.2Q241.5,396.5 241.9,395.8Q242.3,395.1 241.8,395.0Q241.3,394.8 241.2,394.8Q241.0,394.8 240.4,395.4Q239.9,396.0 239.5,396.7Q239.2,397.4 239.8,397.6Z" fill="#eeeeee"/>
<path d="M242.3,398.3Q242.5,398.4 242.4,398.3Q242.4,398.3 242.7,397.6Q243.0,396.9 243.6,396.2Q244.1,395.6 243.7,395.5Q243.3,395.3 243.0,395.3Q242.8,395.3 242.6,396.0Q242.5,396.7 242.3,397.5Q242.1,398.2 242.3,398.3Z" fill="#f4f4f4"/>
<path d="M244.0,398.7Q244.3,398.9 244.5,398.9Q244.7,398.9 244.8,398.7Q245.0,398.5 245.3,398.3Q245.6,398.2 245.1,398.0Q244.6,397.8 244.3,397.8Q243.9,397.8 243.9,398.0Q243.8,398.2 243.7,398.4Q243.7,398.6 244.0,398.7Z" fill="#b4b4b4"/>
<path d="M244.4,397.1Q244.7,397.3 244.9,397.3Q245.0,397.2 245.2,396.9Q245.4,396.6 245.8,396.4Q246.2,396.1 245.6,396.0Q245.1,395.8 244.8,395.7Q244.4,395.7 244.3,396.0Q244.3,396.4 244.2,396.7Q244.1,397.0 244.4,397.1Z" fill="#f4f4f4"/>
<path d="M246.2,399.3Q246.2,399.3 246.3,399.3Q246.5,399.3 246.6,398.9Q246.7,398.5 246.9,398.0Q247.0,397.6 246.8,397.5Q246.6,397.4 246.3,397.4Q246.0,397.4 246.1,397.8Q246.2,398.3 246.2,398.8Q246.2,399.2 246.2,399.3Z" fill="#d4d4d4"/>
<path d="M246.5,396.8Q246.8,396.9 247.1,396.9Q247.5,397.0 247.4,396.8Q247.4,396.7 247.2,396.5Q246.9,396.3 246.9,396.3Q246.9,396.2 246.9,396.3Q246.8,396.3 246.6,396.4Q246.4,396.4 246.3,396.5Q246.2,396.6 246.5,396.8Z" fill="#b4b4b4"/>
<path d="M247.9,399.7Q248.1,399.8 248.7,399.9Q249.3,400.0 249.2,399.9Q249.1,399.8 248.7,399.6Q248.4,399.4 248.3,399.3Q248.2,399.3 247.7,399.2Q247.2,399.1 247.4,399.3Q247.6,399.4 247.6,399.5Q247.7,399.6 247.9,399.7Z" fill="#eeeeee"/>
<path d="M248.1,398.6Q248.3,398.7 248.7,398.8Q249.1,398.8 249.2,398.6Q249.2,398.4 249.1,398.2Q249.1,398.0 248.8,397.9Q248.5,397.8 248.1,397.7Q247.6,397.7 247.7,397.9Q247.8,398.1 247.8,398.3Q247.8,398.5 248.1,398.6Z" fill="#e2e2e2"/>
<path d="M248.5,397.2Q248.7,397.2 248.8,397.2Q248.9,397.2 249.0,397.1Q249.2,397.1 249.6,397.1Q250.0,397.1 249.4,396.9Q248.8,396.7 248.2,396.6Q247.6,396.5 247.9,396.7Q248.2,396.8 248.3,397.0Q248.4,397.1 248.5,397.2Z" fill="#f4f4f4"/>
<path d="M250.3,400.3Q250.9,400.4 251.4,400.5Q251.9,400.6 252.1,399.9Q252.4,399.1 252.7,398.5Q253.0,397.8 252.3,397.5Q251.6,397.3 250.8,397.2Q250.1,397.1 250.1,397.8Q250.1,398.6 249.9,399.4Q249.8,400.1 250.3,400.3Z" fill="#c8c8c8"/>
<path d="M253.2,400.9Q253.2,401.0 253.1,400.9Q253.0,400.8 253.3,400.1Q253.6,399.4 254.1,398.8Q254.6,398.1 254.3,398.0Q253.9,397.9 253.7,397.8Q253.4,397.8 253.4,398.6Q253.4,399.4 253.3,400.1Q253.2,400.9 253.2,400.9Z" fill="#cccccc"/>
<path d="M254.8,401.3Q255.7,401.5 256.3,401.6Q256.9,401.7 257.0,401.5Q257.0,401.3 257.2,401.2Q257.4,401.0 256.6,400.8Q255.9,400.6 255.4,400.6Q254.9,400.5 254.5,400.6Q254.2,400.7 254.1,400.9Q253.9,401.0 254.8,401.3Z" fill="#d4d4d4"/>
<path d="M255.2,399.8Q256.0,400.1 256.9,400.2Q257.8,400.3 257.8,399.9Q257.7,399.5 257.5,399.1Q257.2,398.6 256.7,398.5Q256.3,398.4 255.7,398.3Q255.2,398.2 254.9,398.6Q254.7,398.9 254.6,399.3Q254.4,399.6 255.2,399.8Z" fill="#b4b4b4"/>
<path d="M258.7,402.1Q259.1,402.2 259.8,402.3Q260.4,402.3 260.5,401.9Q260.6,401.4 260.7,400.9Q260.9,400.4 260.2,400.3Q259.5,400.1 258.7,400.0Q257.8,399.8 258.0,400.4Q258.3,400.9 258.3,401.4Q258.4,401.9 258.7,402.1Z" fill="#c8c8c8"/>
<path d="M259.3,399.4Q259.7,399.5 260.3,399.6Q260.9,399.7 260.9,399.6Q260.9,399.5 261.0,399.5Q261.0,399.4 260.4,399.2Q259.7,399.1 258.8,398.9Q257.9,398.8 258.3,398.9Q258.7,399.1 258.8,399.2Q259.0,399.3 259.3,399.4Z" fill="#dcdcdc"/>
<path d="M261.8,402.6Q262.7,402.9 263.7,403.0Q264.6,403.1 264.6,402.8Q264.5,402.5 264.3,402.2Q264.1,401.8 263.5,401.7Q263.0,401.5 262.5,401.5Q262.0,401.4 261.5,401.7Q261.1,401.9 261.0,402.1Q260.8,402.4 261.8,402.6Z" fill="#ffffff"/>
<path d="M262.3,400.8Q263.1,401.0 263.8,401.1Q264.5,401.1 264.5,400.9Q264.6,400.6 264.7,400.3Q264.9,400.1 264.1,399.9Q263.3,399.7 262.6,399.6Q262.0,399.6 261.8,399.8Q261.6,400.1 261.5,400.3Q261.5,400.6 262.3,400.8Z" fill="#eeeeee"/>
<path d="M265.4,403.3Q265.8,403.4 266.0,403.4Q266.2,403.4 266.4,402.6Q266.6,401.9 267.0,401.2Q267.5,400.5 266.9,400.4Q266.3,400.2 266.0,400.2Q265.7,400.2 265.5,401.0Q265.3,401.7 265.1,402.4Q264.9,403.2 265.4,403.3Z" fill="#f8f8f8"/>
<path d="M268.0,403.7Q268.7,403.9 269.6,404.0Q270.5,404.1 270.6,403.3Q270.6,402.6 270.4,401.8Q270.2,401.0 269.7,400.8Q269.3,400.7 268.6,400.7Q267.9,400.6 267.8,401.3Q267.6,402.1 267.5,402.8Q267.3,403.6 268.0,403.7Z" fill="#c8c8c8"/>
<path d="M270.9,404.2Q271.2,404.3 271.3,404.2Q271.3,404.2 271.5,403.5Q271.7,402.7 272.0,402.0Q272.3,401.3 272.0,401.2Q271.7,401.1 271.8,401.2Q271.8,401.2 271.4,401.9Q271.0,402.6 270.8,403.3Q270.6,404.1 270.9,404.2Z" fill="#ffffff"/>
<path d="M273.1,404.5Q273.4,404.6 273.7,404.6Q274.0,404.6 274.2,403.9Q274.5,403.2 275.0,402.5Q275.4,401.8 274.7,401.6Q273.9,401.5 273.2,401.4Q272.5,401.3 272.7,402.1Q272.8,402.9 272.8,403.7Q272.7,404.4 273.1,404.5Z" fill="#f4f4f4"/>
<path d="M275.9,404.9Q276.4,405.1 276.7,405.1Q277.0,405.1 277.2,405.0Q277.3,404.9 277.6,404.9Q277.9,404.8 277.2,404.7Q276.5,404.5 275.8,404.5Q275.2,404.4 275.3,404.5Q275.4,404.6 275.5,404.7Q275.5,404.8 275.9,404.9Z" fill="#d4d4d4"/>
<path d="M276.2,403.9Q276.5,404.0 277.0,404.0Q277.5,404.0 277.6,403.6Q277.7,403.1 277.8,402.6Q278.0,402.2 277.4,402.0Q276.8,401.9 276.1,401.8Q275.4,401.8 275.6,402.3Q275.8,402.8 275.8,403.3Q275.9,403.8 276.2,403.9Z" fill="#d4d4d4"/>
<path d="M278.6,405.3Q278.9,405.4 279.2,405.4Q279.4,405.4 279.5,405.2Q279.6,405.0 279.8,404.8Q279.9,404.7 279.5,404.5Q279.1,404.4 278.8,404.4Q278.5,404.4 278.4,404.6Q278.3,404.8 278.3,405.0Q278.2,405.2 278.6,405.3Z" fill="#c8c8c8"/>
<path d="M279.1,403.8Q279.2,403.9 279.6,403.9Q280.1,403.9 280.1,403.6Q280.1,403.2 280.0,402.8Q279.9,402.4 279.6,402.4Q279.4,402.3 278.8,402.2Q278.2,402.2 278.5,402.6Q278.9,403.0 279.0,403.4Q279.1,403.8 279.1,403.8Z" fill="#e2e2e2"/>
<path d="M281.3,405.7Q281.7,405.8 282.3,405.9Q282.9,405.9 283.0,405.6Q283.1,405.2 283.2,404.8Q283.3,404.4 282.7,404.3Q282.0,404.2 281.1,404.1Q280.2,404.0 280.5,404.4Q280.8,404.9 280.9,405.2Q280.9,405.6 281.3,405.7Z" fill="#c0c0c0"/>
<path d="M281.3,403.4Q282.0,403.6 282.4,403.6Q282.8,403.6 282.9,403.4Q283.1,403.3 283.6,403.2Q284.0,403.0 283.1,402.9Q282.2,402.7 281.6,402.6Q281.1,402.6 280.9,402.8Q280.7,402.9 280.7,403.1Q280.6,403.3 281.3,403.4Z" fill="#eeeeee"/>
<path d="M284.2,406.2Q284.3,406.2 284.7,406.2Q285.1,406.2 285.1,406.1Q285.0,406.0 284.8,405.8Q284.5,405.7 284.5,405.6Q284.4,405.5 284.0,405.5Q283.7,405.5 283.8,405.7Q284.0,405.8 284.1,406.0Q284.1,406.1 284.2,406.2Z" fill="#eeeeee"/>
<path d="M284.5,404.9Q284.5,405.0 285.0,405.0Q285.5,405.0 285.4,404.9Q285.3,404.7 284.9,404.5Q284.6,404.3 284.6,404.2Q284.6,404.2 284.1,404.2Q283.6,404.2 284.0,404.4Q284.3,404.6 284.4,404.7Q284.5,404.9 284.5,404.9Z" fill="#dcdcdc"/>
<path d="M284.6,403.6Q284.7,403.6 285.2,403.7Q285.7,403.7 285.6,403.6Q285.5,403.5 285.1,403.3Q284.6,403.1 284.7,403.1Q284.8,403.1 284.4,403.0Q284.0,403.0 284.2,403.2Q284.4,403.3 284.4,403.4Q284.5,403.5 284.6,403.6Z" fill="#eeeeee"/>
<path d="M285.9,406.4Q286.2,406.5 286.4,406.5Q286.6,406.4 286.8,405.7Q286.9,405.0 287.2,404.3Q287.5,403.5 287.1,403.4Q286.7,403.3 286.3,403.3Q286.0,403.3 285.9,404.1Q285.8,404.8 285.8,405.6Q285.7,406.3 285.9,406.4Z" fill="#ffffff"/>
<path d="M288.3,406.7Q288.8,406.9 289.6,406.9Q290.3,407.0 290.4,406.2Q290.4,405.5 290.2,404.7Q290.1,403.9 289.7,403.8Q289.3,403.7 288.6,403.6Q287.9,403.6 287.9,404.4Q288.0,405.1 287.9,405.9Q287.9,406.6 288.3,406.7Z" fill="#e8e8e8"/>
<path d="M291.1,407.1Q291.3,407.2 291.7,407.2Q292.1,407.2 292.1,406.4Q292.1,405.7 291.9,404.9Q291.8,404.1 291.7,404.1Q291.7,404.0 291.5,404.0Q291.3,404.1 291.2,404.8Q291.0,405.5 290.9,406.3Q290.8,407.0 291.1,407.1Z" fill="#b4b4b4"/>
<path d="M292.8,407.3Q292.8,407.4 293.1,407.4Q293.3,407.4 293.4,406.6Q293.4,405.9 293.4,405.1Q293.5,404.4 293.4,404.3Q293.3,404.2 293.1,404.3Q292.9,404.3 292.8,405.0Q292.8,405.8 292.7,406.5Q292.7,407.3 292.8,407.3Z" fill="#e2e2e2"/>
<path d="M295.0,407.6Q295.6,407.8 296.3,407.8Q297.0,407.9 297.1,407.1Q297.3,406.4 297.5,405.6Q297.6,404.9 296.8,404.8Q296.0,404.6 295.0,404.5Q293.9,404.4 294.2,405.2Q294.4,406.0 294.5,406.8Q294.5,407.5 295.0,407.6Z" fill="#c8c8c8"/>
<path d="M298.7,408.1Q299.0,408.2 299.5,408.2Q300.0,408.2 300.0,407.9Q300.1,407.6 300.1,407.3Q300.2,407.0 299.7,406.9Q299.2,406.8 298.4,406.8Q297.7,406.7 298.0,407.1Q298.3,407.4 298.3,407.7Q298.4,408.0 298.7,408.1Z" fill="#eeeeee"/>
<path d="M299.0,406.2Q299.2,406.3 299.7,406.3Q300.1,406.3 300.2,406.0Q300.2,405.8 300.4,405.5Q300.6,405.3 300.0,405.2Q299.4,405.0 298.6,405.0Q297.9,404.9 298.2,405.2Q298.5,405.5 298.6,405.8Q298.7,406.1 299.0,406.2Z" fill="#a0a0a0"/>
<path d="M300.8,408.4Q301.2,408.5 301.7,408.5Q302.1,408.5 302.1,407.8Q302.0,407.0 301.7,406.2Q301.4,405.4 301.5,405.4Q301.6,405.3 301.7,405.4Q301.8,405.4 301.3,406.1Q300.8,406.8 300.5,407.6Q300.3,408.3 300.8,408.4Z" fill="#c8c8c8"/>
<path d="M303.3,408.7Q303.9,408.8 304.4,408.8Q304.9,408.8 305.1,408.5Q305.3,408.1 305.7,407.7Q306.1,407.3 305.1,407.2Q304.1,407.0 303.2,406.9Q302.3,406.9 302.5,407.3Q302.7,407.8 302.7,408.2Q302.8,408.6 303.3,408.7Z" fill="#dcdcdc"/>
<path d="M303.7,406.3Q304.2,406.4 305.2,406.5Q306.1,406.6 306.1,406.4Q306.0,406.2 305.6,406.1Q305.3,405.9 304.8,405.8Q304.3,405.7 303.3,405.6Q302.3,405.5 302.7,405.7Q303.0,405.9 303.1,406.1Q303.2,406.2 303.7,406.3Z" fill="#b4b4b4"/>
<path d="M306.8,409.1Q307.7,409.2 308.2,409.2Q308.7,409.2 308.8,408.9Q309.0,408.6 309.3,408.3Q309.6,408.0 308.7,407.9Q307.8,407.7 307.3,407.7Q306.8,407.7 306.5,408.0Q306.1,408.3 306.0,408.6Q305.9,409.0 306.8,409.1Z" fill="#b4b4b4"/>
<path d="M307.0,407.0Q307.9,407.2 308.8,407.2Q309.8,407.2 309.7,407.0Q309.6,406.8 309.2,406.5Q308.9,406.2 308.4,406.1Q308.0,406.1 307.5,406.1Q307.0,406.1 306.7,406.2Q306.3,406.4 306.2,406.7Q306.1,406.9 307.0,407.0Z" fill="#c8c8c8"/>
<path d="M310.6,409.5Q311.3,409.6 311.7,409.5Q312.1,409.5 312.3,409.2Q312.4,408.9 312.9,408.6Q313.3,408.3 312.3,408.1Q311.4,408.0 310.7,408.0Q310.0,408.0 310.0,408.3Q310.0,408.7 310.0,409.0Q310.0,409.4 310.6,409.5Z" fill="#f8f8f8"/>
<path d="M310.9,407.4Q311.5,407.5 311.8,407.4Q312.2,407.4 312.4,407.2Q312.5,407.0 313.0,406.8Q313.5,406.6 312.5,406.5Q311.5,406.4 310.7,406.3Q309.9,406.3 310.1,406.6Q310.3,406.8 310.4,407.0Q310.4,407.3 310.9,407.4Z" fill="#e8e8e8"/>
<path d="M313.9,409.7Q314.0,409.8 314.1,409.7Q314.1,409.7 314.3,408.9Q314.4,408.2 314.9,407.5Q315.3,406.8 314.8,406.7Q314.3,406.6 313.9,406.6Q313.5,406.6 313.6,407.4Q313.7,408.1 313.7,408.9Q313.7,409.7 313.9,409.7Z" fill="#e2e2e2"/>
<path d="M315.9,409.9Q316.5,410.0 316.7,410.0Q317.0,409.9 317.1,409.6Q317.3,409.4 317.8,409.1Q318.2,408.8 317.4,408.7Q316.6,408.6 316.0,408.6Q315.5,408.6 315.5,408.9Q315.5,409.2 315.4,409.5Q315.4,409.8 315.9,409.9Z" fill="#dcdcdc"/>
<path d="M316.1,407.9Q316.6,408.0 317.4,408.0Q318.2,408.1 318.1,407.8Q318.0,407.5 317.6,407.2Q317.3,406.9 317.0,406.9Q316.7,406.8 316.2,406.8Q315.8,406.8 315.7,407.1Q315.6,407.3 315.5,407.6Q315.5,407.8 316.1,407.9Z" fill="#f4f4f4"/>
<path d="M318.9,410.2Q319.5,410.2 319.9,410.2Q320.2,410.2 320.4,409.5Q320.5,408.7 320.9,408.0Q321.3,407.3 320.5,407.2Q319.8,407.1 319.2,407.1Q318.6,407.1 318.6,407.8Q318.5,408.6 318.5,409.3Q318.4,410.1 318.9,410.2Z" fill="#cccccc"/>
<path d="M321.8,410.4Q322.3,410.5 322.8,410.5Q323.2,410.5 323.3,409.7Q323.4,409.0 323.4,408.2Q323.5,407.5 323.1,407.4Q322.6,407.3 322.3,407.3Q321.9,407.3 321.7,408.1Q321.5,408.8 321.3,409.6Q321.2,410.3 321.8,410.4Z" fill="#d4d4d4"/>
<path d="M324.2,410.6Q324.4,410.7 324.6,410.6Q324.7,410.6 324.7,410.5Q324.8,410.4 324.8,410.3Q324.9,410.2 324.7,410.2Q324.5,410.1 324.4,410.1Q324.2,410.2 324.1,410.3Q324.0,410.3 324.0,410.4Q324.0,410.5 324.2,410.6Z" fill="#c8c8c8"/>
<path d="M324.5,409.5Q324.5,409.5 324.8,409.5Q325.0,409.5 325.0,409.0Q325.0,408.5 324.9,408.1Q324.8,407.6 324.8,407.5Q324.7,407.5 324.3,407.5Q323.9,407.5 324.2,408.0Q324.4,408.5 324.5,409.0Q324.6,409.4 324.5,409.5Z" fill="#ffffff"/>
<path d="M326.2,410.8Q327.0,410.9 327.4,410.8Q327.9,410.8 328.1,410.1Q328.2,409.3 328.6,408.6Q329.0,407.9 328.1,407.8Q327.2,407.7 326.6,407.7Q326.1,407.7 325.8,408.4Q325.6,409.2 325.5,409.9Q325.4,410.6 326.2,410.8Z" fill="#c8c8c8"/>
<path d="M329.7,411.0Q329.7,411.0 329.7,411.0Q329.7,410.9 329.8,410.6Q330.0,410.2 330.3,409.8Q330.6,409.4 330.2,409.4Q329.8,409.3 329.3,409.3Q328.8,409.3 329.2,409.7Q329.5,410.2 329.6,410.5Q329.7,410.9 329.7,411.0Z" fill="#c0c0c0"/>
<path d="M329.5,408.7Q329.8,408.7 330.0,408.7Q330.3,408.7 330.3,408.5Q330.3,408.3 330.3,408.1Q330.2,408.0 330.0,407.9Q329.8,407.8 329.7,407.9Q329.5,407.9 329.4,408.1Q329.3,408.3 329.2,408.4Q329.2,408.6 329.5,408.7Z" fill="#cccccc"/>
<path d="M331.3,411.1Q332.0,411.1 332.4,411.1Q332.8,411.1 332.9,410.3Q333.0,409.6 333.3,408.8Q333.6,408.1 332.9,408.0Q332.2,407.9 331.9,408.0Q331.6,408.0 331.2,408.8Q330.8,409.5 330.6,410.2Q330.5,411.0 331.3,411.1Z" fill="#eeeeee"/>
<path d="M334.3,411.2Q334.3,411.2 334.4,411.2Q334.4,411.1 334.5,410.8Q334.5,410.5 334.7,410.2Q334.9,409.9 334.6,409.8Q334.3,409.8 334.0,409.8Q333.7,409.9 333.9,410.2Q334.1,410.5 334.2,410.8Q334.2,411.1 334.3,411.2Z" fill="#eeeeee"/>
<path d="M333.9,409.2Q334.3,409.2 334.3,409.2Q334.3,409.1 334.4,408.9Q334.5,408.6 334.8,408.4Q335.1,408.1 334.7,408.1Q334.4,408.0 334.4,408.1Q334.5,408.1 334.2,408.4Q333.8,408.6 333.7,408.8Q333.5,409.1 333.9,409.2Z" fill="#f4f4f4"/>
<path d="M335.8,411.2Q336.2,411.2 336.8,411.2Q337.3,411.2 337.2,411.0Q337.1,410.9 336.8,410.8Q336.5,410.6 336.4,410.6Q336.2,410.5 335.9,410.6Q335.6,410.6 335.5,410.7Q335.4,410.9 335.4,411.0Q335.4,411.1 335.8,411.2Z" fill="#f8f8f8"/>
<path d="M336.0,409.9Q336.2,410.0 336.4,409.9Q336.5,409.9 336.6,409.4Q336.7,409.0 337.1,408.6Q337.5,408.2 336.9,408.1Q336.3,408.1 335.8,408.1Q335.3,408.1 335.5,408.6Q335.6,409.0 335.7,409.4Q335.7,409.9 336.0,409.9Z" fill="#ffffff"/>
<path d="M338.4,411.2Q338.6,411.3 338.9,411.2Q339.3,411.2 339.3,410.4Q339.4,409.7 339.5,408.9Q339.7,408.2 339.2,408.1Q338.6,408.1 338.1,408.1Q337.5,408.2 337.7,408.9Q338.0,409.7 338.0,410.4Q338.1,411.2 338.4,411.2Z" fill="#eeeeee"/>
<path d="M340.8,411.2Q341.7,411.3 342.5,411.3Q343.3,411.2 343.2,410.5Q343.1,409.7 343.0,409.0Q342.8,408.2 342.2,408.2Q341.7,408.1 341.2,408.1Q340.7,408.2 340.4,408.9Q340.1,409.7 340.0,410.4Q339.9,411.2 340.8,411.2Z" fill="#e2e2e2"/>
<path d="M344.5,411.3Q345.0,411.3 345.5,411.3Q346.0,411.2 346.0,410.8Q346.1,410.4 346.2,410.0Q346.4,409.7 345.7,409.6Q345.0,409.6 344.4,409.6Q343.7,409.7 343.8,410.0Q343.9,410.4 344.0,410.8Q344.0,411.2 344.5,411.3Z" fill="#c8c8c8"/>
<path d="M344.6,409.0Q345.0,409.0 345.7,409.0Q346.4,408.9 346.3,408.7Q346.3,408.6 346.1,408.4Q346.0,408.2 345.5,408.2Q345.0,408.1 344.3,408.2Q343.5,408.2 343.8,408.4Q344.0,408.6 344.1,408.7Q344.2,408.9 344.6,409.0Z" fill="#f8f8f8"/>
<path d="M347.6,411.2Q348.3,411.3 349.0,411.2Q349.8,411.2 349.7,410.4Q349.7,409.7 349.5,408.9Q349.4,408.2 348.8,408.1Q348.3,408.1 347.7,408.1Q347.2,408.2 347.0,409.0Q346.9,409.7 346.9,410.5Q346.8,411.2 347.6,411.2Z" fill="#f4f4f4"/>
<path d="M351.4,411.2Q351.9,411.3 352.9,411.2Q353.8,411.2 353.7,410.4Q353.6,409.7 353.3,408.9Q353.0,408.2 352.5,408.1Q351.9,408.1 351.0,408.1Q350.1,408.2 350.3,408.9Q350.6,409.7 350.7,410.4Q350.8,411.2 351.4,411.2Z" fill="#f8f8f8"/>
<path d="M354.5,411.2Q354.9,411.2 355.0,411.2Q355.2,411.1 355.2,410.4Q355.3,409.6 355.5,408.9Q355.8,408.1 355.3,408.1Q354.9,408.0 354.7,408.1Q354.5,408.1 354.3,408.9Q354.2,409.7 354.1,410.4Q354.0,411.2 354.5,411.2Z" fill="#f8f8f8"/>
<path d="M356.9,411.2Q357.9,411.2 359.0,411.2Q360.0,411.1 359.9,410.4Q359.7,409.6 359.3,408.9Q359.0,408.1 358.4,408.1Q357.9,408.0 357.3,408.1Q356.7,408.1 356.4,408.9Q356.1,409.6 356.0,410.4Q356.0,411.1 356.9,411.2Z" fill="#d4d4d4"/>
<path d="M360.7,411.2Q361.0,411.2 361.4,411.2Q361.9,411.1 361.8,410.4Q361.7,409.6 361.5,408.9Q361.2,408.1 361.1,408.1Q360.9,408.0 360.5,408.1Q360.1,408.1 360.3,408.9Q360.4,409.6 360.5,410.4Q360.5,411.1 360.7,411.2Z" fill="#e8e8e8"/>
</g>
<polygon points="175.37,337.41 175.49,337.64 175.62,337.89 175.77,338.18 175.95,338.53 176.15,338.92 176.39,339.38 176.66,339.90 176.96,340.50 177.30,341.18 177.69,341.95 178.13,342.84 178.63,343.84 179.18,344.95 179.77,346.14 180.39,347.38 181.02,348.66 181.66,349.95 182.30,351.23 182.91,352.48 183.52,353.71 184.10,354.95 184.65,356.19 185.16,357.38 185.64,358.53 186.11,359.63 186.58,360.69 187.07,361.71 187.59,362.70 188.15,363.67 188.78,364.63 189.52,365.65 190.38,366.75 191.31,367.88 192.31,369.03 193.35,370.19 194.41,371.32 195.47,372.42 196.51,373.46 197.51,374.42 198.44,375.30 199.29,376.06 200.07,376.72 200.80,377.31 201.51,377.84 202.22,378.34 202.96,378.82 203.73,379.31 204.57,379.82 205.49,380.36 206.48,380.94 207.52,381.54 208.59,382.14 209.69,382.74 210.82,383.34 211.98,383.93 213.17,384.52 214.39,385.10 215.64,385.67 216.92,386.23 218.22,386.76 219.57,387.28 221.00,387.81 222.49,388.33 224.04,388.84 225.62,389.35 227.22,389.85 228.82,390.34 230.40,390.81 231.95,391.28 233.45,391.73 234.89,392.17 236.28,392.58 237.65,392.97 238.99,393.36 240.31,393.73 241.63,394.09 242.96,394.44 244.29,394.79 245.65,395.13 247.04,395.48 248.44,395.82 249.82,396.15 251.20,396.47 252.59,396.79 253.98,397.10 255.40,397.41 256.85,397.71 258.35,398.02 259.89,398.32 261.50,398.62 263.15,398.93 264.84,399.22 266.56,399.52 268.33,399.81 270.14,400.10 271.99,400.40 273.90,400.69 275.85,400.99 277.86,401.29 279.93,401.60 282.12,401.92 284.47,402.25 286.93,402.60 289.46,402.95 292.01,403.30 294.52,403.64 296.96,403.97 299.27,404.27 301.41,404.54 303.32,404.78 305.00,404.98 306.47,405.14 307.78,405.28 308.97,405.40 310.09,405.49 311.16,405.58 312.24,405.67 313.36,405.76 314.56,405.86 315.87,405.97 317.27,406.09 318.71,406.21 320.18,406.34 321.66,406.47 323.16,406.60 324.64,406.72 326.10,406.84 327.53,406.94 328.91,407.03 330.23,407.11 331.49,407.17 332.71,407.22 333.89,407.25 335.05,407.28 336.20,407.30 337.34,407.32 338.48,407.33 339.64,407.33 340.82,407.34 342.03,407.35 343.26,407.36 344.53,407.36 345.83,407.36 347.14,407.35 348.45,407.34 349.73,407.33 350.99,407.32 352.19,407.31 353.32,407.31 354.38,407.30 355.36,407.29 356.32,407.29 357.24,407.28 358.12,407.28 358.94,407.27 359.71,407.27 360.40,407.26 361.01,407.26 361.54,407.25 361.97,407.25 362.00,411.95 361.57,411.95 361.05,411.96 360.43,411.96 359.74,411.97 358.98,411.97 358.15,411.98 357.27,411.98 356.35,411.99 355.39,411.99 354.40,412.00 353.35,412.01 352.22,412.01 351.02,412.02 349.77,412.03 348.48,412.04 347.16,412.05 345.84,412.06 344.53,412.06 343.24,412.06 342.00,412.05 340.79,412.04 339.61,412.03 338.45,412.03 337.29,412.01 336.13,412.00 334.95,411.98 333.76,411.95 332.54,411.91 331.28,411.86 329.98,411.80 328.62,411.72 327.21,411.63 325.75,411.52 324.27,411.41 322.76,411.28 321.26,411.16 319.77,411.03 318.29,410.90 316.86,410.77 315.47,410.65 314.18,410.54 312.99,410.44 311.87,410.36 310.78,410.27 309.68,410.18 308.54,410.07 307.31,409.96 305.96,409.82 304.46,409.65 302.76,409.45 300.82,409.21 298.67,408.93 296.34,408.63 293.90,408.30 291.37,407.96 288.82,407.61 286.28,407.25 283.81,406.91 281.45,406.57 279.25,406.25 277.17,405.94 275.15,405.64 273.18,405.34 271.27,405.04 269.39,404.75 267.57,404.45 265.78,404.15 264.03,403.85 262.32,403.55 260.64,403.24 259.00,402.93 257.43,402.63 255.90,402.32 254.42,402.01 252.97,401.69 251.55,401.37 250.14,401.05 248.74,400.72 247.33,400.39 245.92,400.04 244.51,399.69 243.12,399.34 241.76,398.98 240.41,398.62 239.06,398.26 237.71,397.88 236.35,397.49 234.96,397.09 233.55,396.67 232.10,396.24 230.60,395.78 229.04,395.31 227.45,394.83 225.83,394.34 224.20,393.83 222.58,393.31 220.98,392.78 219.42,392.23 217.91,391.68 216.47,391.12 215.08,390.55 213.73,389.97 212.41,389.36 211.12,388.75 209.87,388.13 208.65,387.51 207.46,386.88 206.31,386.25 205.20,385.62 204.12,385.00 203.11,384.41 202.16,383.85 201.27,383.31 200.41,382.77 199.58,382.22 198.75,381.64 197.93,381.02 197.08,380.34 196.19,379.59 195.26,378.76 194.27,377.82 193.22,376.80 192.12,375.71 191.01,374.56 189.89,373.37 188.79,372.15 187.72,370.92 186.71,369.69 185.77,368.48 184.91,367.30 184.15,366.14 183.48,364.98 182.87,363.82 182.31,362.66 181.80,361.51 181.31,360.36 180.82,359.20 180.34,358.05 179.83,356.90 179.28,355.75 178.70,354.56 178.08,353.31 177.45,352.03 176.81,350.74 176.18,349.47 175.56,348.23 174.98,347.04 174.43,345.94 173.93,344.94 173.49,344.06 173.11,343.30 172.77,342.63 172.47,342.04 172.21,341.53 171.98,341.08 171.78,340.69 171.60,340.35 171.45,340.06 171.31,339.80 171.19,339.56" fill="none" stroke="#111" stroke-width="1.25" stroke-linejoin="round"/>
</g>
<polygon points="16.20,124.30 195.40,34.70 213.32,34.70 374.60,124.30" fill="none" stroke="#000" stroke-width="1" stroke-linejoin="miter"/>
<rect x="16.2" y="12.3" width="358.40" height="112.0" fill="none" stroke="#000" stroke-width="1.4"/>
<line x1="374.60" y1="124.3" x2="374.60" y2="128.0" stroke="#000" stroke-width="0.9"/>
<text x="374.60" y="135.90" font-size="7.9" text-anchor="middle" fill="#111" font-weight="normal" >0</text>
<line x1="352.20" y1="124.3" x2="352.20" y2="126.5" stroke="#000" stroke-width="0.9"/>
<line x1="329.80" y1="124.3" x2="329.80" y2="128.0" stroke="#000" stroke-width="0.9"/>
<text x="329.80" y="135.90" font-size="7.9" text-anchor="middle" fill="#111" font-weight="normal" >0.4</text>
<line x1="307.40" y1="124.3" x2="307.40" y2="126.5" stroke="#000" stroke-width="0.9"/>
<line x1="285.00" y1="124.3" x2="285.00" y2="128.0" stroke="#000" stroke-width="0.9"/>
<text x="285.00" y="135.90" font-size="7.9" text-anchor="middle" fill="#111" font-weight="normal" >0.8</text>
<line x1="262.60" y1="124.3" x2="262.60" y2="126.5" stroke="#000" stroke-width="0.9"/>
<line x1="240.20" y1="124.3" x2="240.20" y2="128.0" stroke="#000" stroke-width="0.9"/>
<text x="240.20" y="135.90" font-size="7.9" text-anchor="middle" fill="#111" font-weight="normal" >1.2</text>
<line x1="217.80" y1="124.3" x2="217.80" y2="126.5" stroke="#000" stroke-width="0.9"/>
<line x1="195.40" y1="124.3" x2="195.40" y2="128.0" stroke="#000" stroke-width="0.9"/>
<text x="195.40" y="135.90" font-size="7.9" text-anchor="middle" fill="#111" font-weight="normal" >1.6</text>
<line x1="173.00" y1="124.3" x2="173.00" y2="126.5" stroke="#000" stroke-width="0.9"/>
<line x1="150.60" y1="124.3" x2="150.60" y2="128.0" stroke="#000" stroke-width="0.9"/>
<text x="150.60" y="135.90" font-size="7.9" text-anchor="middle" fill="#111" font-weight="normal" >2.0</text>
<line x1="128.20" y1="124.3" x2="128.20" y2="126.5" stroke="#000" stroke-width="0.9"/>
<line x1="105.80" y1="124.3" x2="105.80" y2="128.0" stroke="#000" stroke-width="0.9"/>
<text x="105.80" y="135.90" font-size="7.9" text-anchor="middle" fill="#111" font-weight="normal" >2.4</text>
<line x1="83.40" y1="124.3" x2="83.40" y2="126.5" stroke="#000" stroke-width="0.9"/>
<line x1="61.00" y1="124.3" x2="61.00" y2="128.0" stroke="#000" stroke-width="0.9"/>
<text x="61.00" y="135.90" font-size="7.9" text-anchor="middle" fill="#111" font-weight="normal" >2.8</text>
<line x1="38.60" y1="124.3" x2="38.60" y2="126.5" stroke="#000" stroke-width="0.9"/>
<line x1="16.20" y1="124.3" x2="16.20" y2="128.0" stroke="#000" stroke-width="0.9"/>
<text x="16.20" y="135.90" font-size="7.9" text-anchor="middle" fill="#111" font-weight="normal" >3.2</text>
<line x1="374.6" y1="124.30" x2="378.3" y2="124.30" stroke="#000" stroke-width="0.9"/>
<text x="380.20" y="127.00" font-size="7.9" text-anchor="start" fill="#111" font-weight="normal" >0</text>
<line x1="374.6" y1="113.10" x2="376.8" y2="113.10" stroke="#000" stroke-width="0.9"/>
<line x1="374.6" y1="101.90" x2="378.3" y2="101.90" stroke="#000" stroke-width="0.9"/>
<text x="380.20" y="104.60" font-size="7.9" text-anchor="start" fill="#111" font-weight="normal" >0.2</text>
<line x1="374.6" y1="90.70" x2="376.8" y2="90.70" stroke="#000" stroke-width="0.9"/>
<line x1="374.6" y1="79.50" x2="378.3" y2="79.50" stroke="#000" stroke-width="0.9"/>
<text x="380.20" y="82.20" font-size="7.9" text-anchor="start" fill="#111" font-weight="normal" >0.4</text>
<line x1="374.6" y1="68.30" x2="376.8" y2="68.30" stroke="#000" stroke-width="0.9"/>
<line x1="374.6" y1="57.10" x2="378.3" y2="57.10" stroke="#000" stroke-width="0.9"/>
<text x="380.20" y="59.80" font-size="7.9" text-anchor="start" fill="#111" font-weight="normal" >0.6</text>
<line x1="374.6" y1="45.90" x2="376.8" y2="45.90" stroke="#000" stroke-width="0.9"/>
<line x1="374.6" y1="34.70" x2="378.3" y2="34.70" stroke="#000" stroke-width="0.9"/>
<text x="380.20" y="37.40" font-size="7.9" text-anchor="start" fill="#111" font-weight="normal" >0.8</text>
<line x1="374.6" y1="23.50" x2="376.8" y2="23.50" stroke="#000" stroke-width="0.9"/>
<line x1="374.6" y1="12.30" x2="378.3" y2="12.30" stroke="#000" stroke-width="0.9"/>
<text x="380.20" y="15.00" font-size="7.9" text-anchor="start" fill="#111" font-weight="normal" >1.0</text>
<text x="200.50" y="146.70" font-size="9.3" text-anchor="middle" fill="#111" font-weight="normal" >Distance (m)</text>
<text x="396.80" y="68.30" font-size="9.3" text-anchor="middle" fill="#111" font-weight="normal" transform="rotate(-90 396.8 68.3)" dy="3">Elevation (m)</text>
<text x="20.8" y="28.60" font-size="12.5" fill="#000">(<tspan font-weight="bold">a</tspan>)</text>
<text x="27.00" y="62.36" font-size="10.5" text-anchor="start" fill="#fff" font-weight="bold" >Upstream reservoir</text>
<text x="180.00" y="117.80" font-size="10.5" text-anchor="start" fill="#f5150a" font-weight="bold" >Dam model 2</text>
<polygon points="16.20,273.50 195.40,183.90 213.32,183.90 374.60,273.50" fill="none" stroke="#000" stroke-width="1" stroke-linejoin="miter"/>
<rect x="16.2" y="161.5" width="358.40" height="112.0" fill="none" stroke="#000" stroke-width="1.4"/>
<line x1="374.60" y1="273.5" x2="374.60" y2="277.2" stroke="#000" stroke-width="0.9"/>
<text x="374.60" y="285.10" font-size="7.9" text-anchor="middle" fill="#111" font-weight="normal" >0</text>
<line x1="352.20" y1="273.5" x2="352.20" y2="275.7" stroke="#000" stroke-width="0.9"/>
<line x1="329.80" y1="273.5" x2="329.80" y2="277.2" stroke="#000" stroke-width="0.9"/>
<text x="329.80" y="285.10" font-size="7.9" text-anchor="middle" fill="#111" font-weight="normal" >0.4</text>
<line x1="307.40" y1="273.5" x2="307.40" y2="275.7" stroke="#000" stroke-width="0.9"/>
<line x1="285.00" y1="273.5" x2="285.00" y2="277.2" stroke="#000" stroke-width="0.9"/>
<text x="285.00" y="285.10" font-size="7.9" text-anchor="middle" fill="#111" font-weight="normal" >0.8</text>
<line x1="262.60" y1="273.5" x2="262.60" y2="275.7" stroke="#000" stroke-width="0.9"/>
<line x1="240.20" y1="273.5" x2="240.20" y2="277.2" stroke="#000" stroke-width="0.9"/>
<text x="240.20" y="285.10" font-size="7.9" text-anchor="middle" fill="#111" font-weight="normal" >1.2</text>
<line x1="217.80" y1="273.5" x2="217.80" y2="275.7" stroke="#000" stroke-width="0.9"/>
<line x1="195.40" y1="273.5" x2="195.40" y2="277.2" stroke="#000" stroke-width="0.9"/>
<text x="195.40" y="285.10" font-size="7.9" text-anchor="middle" fill="#111" font-weight="normal" >1.6</text>
<line x1="173.00" y1="273.5" x2="173.00" y2="275.7" stroke="#000" stroke-width="0.9"/>
<line x1="150.60" y1="273.5" x2="150.60" y2="277.2" stroke="#000" stroke-width="0.9"/>
<text x="150.60" y="285.10" font-size="7.9" text-anchor="middle" fill="#111" font-weight="normal" >2.0</text>
<line x1="128.20" y1="273.5" x2="128.20" y2="275.7" stroke="#000" stroke-width="0.9"/>
<line x1="105.80" y1="273.5" x2="105.80" y2="277.2" stroke="#000" stroke-width="0.9"/>
<text x="105.80" y="285.10" font-size="7.9" text-anchor="middle" fill="#111" font-weight="normal" >2.4</text>
<line x1="83.40" y1="273.5" x2="83.40" y2="275.7" stroke="#000" stroke-width="0.9"/>
<line x1="61.00" y1="273.5" x2="61.00" y2="277.2" stroke="#000" stroke-width="0.9"/>
<text x="61.00" y="285.10" font-size="7.9" text-anchor="middle" fill="#111" font-weight="normal" >2.8</text>
<line x1="38.60" y1="273.5" x2="38.60" y2="275.7" stroke="#000" stroke-width="0.9"/>
<line x1="16.20" y1="273.5" x2="16.20" y2="277.2" stroke="#000" stroke-width="0.9"/>
<text x="16.20" y="285.10" font-size="7.9" text-anchor="middle" fill="#111" font-weight="normal" >3.2</text>
<line x1="374.6" y1="273.50" x2="378.3" y2="273.50" stroke="#000" stroke-width="0.9"/>
<text x="380.20" y="276.20" font-size="7.9" text-anchor="start" fill="#111" font-weight="normal" >0</text>
<line x1="374.6" y1="262.30" x2="376.8" y2="262.30" stroke="#000" stroke-width="0.9"/>
<line x1="374.6" y1="251.10" x2="378.3" y2="251.10" stroke="#000" stroke-width="0.9"/>
<text x="380.20" y="253.80" font-size="7.9" text-anchor="start" fill="#111" font-weight="normal" >0.2</text>
<line x1="374.6" y1="239.90" x2="376.8" y2="239.90" stroke="#000" stroke-width="0.9"/>
<line x1="374.6" y1="228.70" x2="378.3" y2="228.70" stroke="#000" stroke-width="0.9"/>
<text x="380.20" y="231.40" font-size="7.9" text-anchor="start" fill="#111" font-weight="normal" >0.4</text>
<line x1="374.6" y1="217.50" x2="376.8" y2="217.50" stroke="#000" stroke-width="0.9"/>
<line x1="374.6" y1="206.30" x2="378.3" y2="206.30" stroke="#000" stroke-width="0.9"/>
<text x="380.20" y="209.00" font-size="7.9" text-anchor="start" fill="#111" font-weight="normal" >0.6</text>
<line x1="374.6" y1="195.10" x2="376.8" y2="195.10" stroke="#000" stroke-width="0.9"/>
<line x1="374.6" y1="183.90" x2="378.3" y2="183.90" stroke="#000" stroke-width="0.9"/>
<text x="380.20" y="186.60" font-size="7.9" text-anchor="start" fill="#111" font-weight="normal" >0.8</text>
<line x1="374.6" y1="172.70" x2="376.8" y2="172.70" stroke="#000" stroke-width="0.9"/>
<line x1="374.6" y1="161.50" x2="378.3" y2="161.50" stroke="#000" stroke-width="0.9"/>
<text x="380.20" y="164.20" font-size="7.9" text-anchor="start" fill="#111" font-weight="normal" >1.0</text>
<text x="200.50" y="295.90" font-size="9.3" text-anchor="middle" fill="#111" font-weight="normal" >Distance (m)</text>
<text x="396.80" y="217.50" font-size="9.3" text-anchor="middle" fill="#111" font-weight="normal" transform="rotate(-90 396.8 217.5)" dy="3">Elevation (m)</text>
<text x="20.8" y="177.80" font-size="12.5" fill="#000">(<tspan font-weight="bold">b</tspan>)</text>
<text x="27.00" y="211.56" font-size="10.5" text-anchor="start" fill="#fff" font-weight="bold" >Upstream reservoir</text>
<text x="180.00" y="267.00" font-size="10.5" text-anchor="start" fill="#f5150a" font-weight="bold" >Dam model 3</text>
<polygon points="16.20,422.90 195.40,333.30 213.32,333.30 374.60,422.90" fill="none" stroke="#000" stroke-width="1" stroke-linejoin="miter"/>
<rect x="16.2" y="310.9" width="358.40" height="112.0" fill="none" stroke="#000" stroke-width="1.4"/>
<line x1="374.60" y1="422.9" x2="374.60" y2="426.59999999999997" stroke="#000" stroke-width="0.9"/>
<text x="374.60" y="434.50" font-size="7.9" text-anchor="middle" fill="#111" font-weight="normal" >0</text>
<line x1="352.20" y1="422.9" x2="352.20" y2="425.09999999999997" stroke="#000" stroke-width="0.9"/>
<line x1="329.80" y1="422.9" x2="329.80" y2="426.59999999999997" stroke="#000" stroke-width="0.9"/>
<text x="329.80" y="434.50" font-size="7.9" text-anchor="middle" fill="#111" font-weight="normal" >0.4</text>
<line x1="307.40" y1="422.9" x2="307.40" y2="425.09999999999997" stroke="#000" stroke-width="0.9"/>
<line x1="285.00" y1="422.9" x2="285.00" y2="426.59999999999997" stroke="#000" stroke-width="0.9"/>
<text x="285.00" y="434.50" font-size="7.9" text-anchor="middle" fill="#111" font-weight="normal" >0.8</text>
<line x1="262.60" y1="422.9" x2="262.60" y2="425.09999999999997" stroke="#000" stroke-width="0.9"/>
<line x1="240.20" y1="422.9" x2="240.20" y2="426.59999999999997" stroke="#000" stroke-width="0.9"/>
<text x="240.20" y="434.50" font-size="7.9" text-anchor="middle" fill="#111" font-weight="normal" >1.2</text>
<line x1="217.80" y1="422.9" x2="217.80" y2="425.09999999999997" stroke="#000" stroke-width="0.9"/>
<line x1="195.40" y1="422.9" x2="195.40" y2="426.59999999999997" stroke="#000" stroke-width="0.9"/>
<text x="195.40" y="434.50" font-size="7.9" text-anchor="middle" fill="#111" font-weight="normal" >1.6</text>
<line x1="173.00" y1="422.9" x2="173.00" y2="425.09999999999997" stroke="#000" stroke-width="0.9"/>
<line x1="150.60" y1="422.9" x2="150.60" y2="426.59999999999997" stroke="#000" stroke-width="0.9"/>
<text x="150.60" y="434.50" font-size="7.9" text-anchor="middle" fill="#111" font-weight="normal" >2.0</text>
<line x1="128.20" y1="422.9" x2="128.20" y2="425.09999999999997" stroke="#000" stroke-width="0.9"/>
<line x1="105.80" y1="422.9" x2="105.80" y2="426.59999999999997" stroke="#000" stroke-width="0.9"/>
<text x="105.80" y="434.50" font-size="7.9" text-anchor="middle" fill="#111" font-weight="normal" >2.4</text>
<line x1="83.40" y1="422.9" x2="83.40" y2="425.09999999999997" stroke="#000" stroke-width="0.9"/>
<line x1="61.00" y1="422.9" x2="61.00" y2="426.59999999999997" stroke="#000" stroke-width="0.9"/>
<text x="61.00" y="434.50" font-size="7.9" text-anchor="middle" fill="#111" font-weight="normal" >2.8</text>
<line x1="38.60" y1="422.9" x2="38.60" y2="425.09999999999997" stroke="#000" stroke-width="0.9"/>
<line x1="16.20" y1="422.9" x2="16.20" y2="426.59999999999997" stroke="#000" stroke-width="0.9"/>
<text x="16.20" y="434.50" font-size="7.9" text-anchor="middle" fill="#111" font-weight="normal" >3.2</text>
<line x1="374.6" y1="422.90" x2="378.3" y2="422.90" stroke="#000" stroke-width="0.9"/>
<text x="380.20" y="425.60" font-size="7.9" text-anchor="start" fill="#111" font-weight="normal" >0</text>
<line x1="374.6" y1="411.70" x2="376.8" y2="411.70" stroke="#000" stroke-width="0.9"/>
<line x1="374.6" y1="400.50" x2="378.3" y2="400.50" stroke="#000" stroke-width="0.9"/>
<text x="380.20" y="403.20" font-size="7.9" text-anchor="start" fill="#111" font-weight="normal" >0.2</text>
<line x1="374.6" y1="389.30" x2="376.8" y2="389.30" stroke="#000" stroke-width="0.9"/>
<line x1="374.6" y1="378.10" x2="378.3" y2="378.10" stroke="#000" stroke-width="0.9"/>
<text x="380.20" y="380.80" font-size="7.9" text-anchor="start" fill="#111" font-weight="normal" >0.4</text>
<line x1="374.6" y1="366.90" x2="376.8" y2="366.90" stroke="#000" stroke-width="0.9"/>
<line x1="374.6" y1="355.70" x2="378.3" y2="355.70" stroke="#000" stroke-width="0.9"/>
<text x="380.20" y="358.40" font-size="7.9" text-anchor="start" fill="#111" font-weight="normal" >0.6</text>
<line x1="374.6" y1="344.50" x2="376.8" y2="344.50" stroke="#000" stroke-width="0.9"/>
<line x1="374.6" y1="333.30" x2="378.3" y2="333.30" stroke="#000" stroke-width="0.9"/>
<text x="380.20" y="336.00" font-size="7.9" text-anchor="start" fill="#111" font-weight="normal" >0.8</text>
<line x1="374.6" y1="322.10" x2="376.8" y2="322.10" stroke="#000" stroke-width="0.9"/>
<line x1="374.6" y1="310.90" x2="378.3" y2="310.90" stroke="#000" stroke-width="0.9"/>
<text x="380.20" y="313.60" font-size="7.9" text-anchor="start" fill="#111" font-weight="normal" >1.0</text>
<text x="200.50" y="445.30" font-size="9.3" text-anchor="middle" fill="#111" font-weight="normal" >Distance (m)</text>
<text x="396.80" y="366.90" font-size="9.3" text-anchor="middle" fill="#111" font-weight="normal" transform="rotate(-90 396.8 366.9)" dy="3">Elevation (m)</text>
<text x="20.8" y="327.20" font-size="12.5" fill="#000">(<tspan font-weight="bold">c</tspan>)</text>
<text x="27.00" y="360.96" font-size="10.5" text-anchor="start" fill="#fff" font-weight="bold" >Upstream reservoir</text>
<text x="180.00" y="416.40" font-size="10.5" text-anchor="start" fill="#f5150a" font-weight="bold" >Dam model 4</text>
<circle cx="354.4" cy="113.0" r="1.5" fill="#f01818"/>
<circle cx="330.0" cy="112.8" r="1.5" fill="#f01818"/>
<circle cx="315.5" cy="111.7" r="1.5" fill="#f01818"/>
<circle cx="302.8" cy="110.5" r="1.5" fill="#f01818"/>
<text x="302.30" y="119.00" font-size="7.2" text-anchor="middle" fill="#3e2800" font-weight="normal" >P4</text>
<text x="315.50" y="120.30" font-size="7.2" text-anchor="middle" fill="#3e2800" font-weight="normal" >P3</text>
<text x="330.00" y="120.30" font-size="7.2" text-anchor="middle" fill="#3e2800" font-weight="normal" >P2</text>
<text x="354.50" y="120.30" font-size="7.2" text-anchor="middle" fill="#3e2800" font-weight="normal" >P1</text>
<text x="206.00" y="31.20" font-size="8.6" text-anchor="middle" fill="#000" font-weight="normal" >Dam crest</text>
<text x="258.50" y="38.00" font-size="8.6" text-anchor="start" fill="#000" font-weight="normal" >Boundary of compacted layer</text>
<line x1="258.00" y1="39.00" x2="235.50" y2="79.00" stroke="#000" stroke-width="0.8" marker-end="url(#ah)"/>
<text x="338.50" y="76.00" font-size="8.9" text-anchor="start" fill="#000" font-weight="normal" >Tube</text>
<line x1="337.50" y1="78.00" x2="328.60" y2="107.20" stroke="#000" stroke-width="0.8" marker-end="url(#ah)"/>
<text x="229.40" y="97.50" font-size="8.6" text-anchor="start" fill="#000" font-weight="normal" >Reference point</text>
<line x1="284.00" y1="97.00" x2="301.20" y2="109.40" stroke="#000" stroke-width="0.8" marker-end="url(#ah)"/>
<text x="433.00" y="25.30" font-size="8.6" text-anchor="start" fill="#000" font-weight="normal" >Dam crest</text>
<line x1="470.00" y1="21.60" x2="482.00" y2="33.80" stroke="#000" stroke-width="0.8" marker-end="url(#ah)"/>
<text x="425.60" y="52.30" font-size="7.1" text-anchor="start" fill="#c2660c" font-weight="normal" >4th layer</text>
<text x="425.60" y="74.90" font-size="7.1" text-anchor="start" fill="#c2660c" font-weight="normal" >3rd layer</text>
<text x="425.60" y="97.30" font-size="7.1" text-anchor="start" fill="#c2660c" font-weight="normal" >2nd layer</text>
<text x="425.60" y="119.90" font-size="7.1" text-anchor="start" fill="#c2660c" font-weight="normal" >1st layer</text>
<circle cx="477.40" cy="110.64" r="2.55" fill="#8b96a4" stroke="#15120c" stroke-width="0.95"/>
<path d="M474.85,106.49 h2 M479.95,106.49 h-2" fill="none" stroke="#15120c" stroke-width="0.95"/>
<path d="M474.85,106.04 V110.64 M479.95,106.04 V110.64" fill="none" stroke="#15120c" stroke-width="0.95" />
<circle cx="477.40" cy="259.84" r="2.55" fill="#8b96a4" stroke="#15120c" stroke-width="0.95"/>
<path d="M474.85,248.64 h5.1" fill="none" stroke="#15120c" stroke-width="0.95"/>
<path d="M474.85,248.19 V259.84 M479.95,248.19 V259.84" fill="none" stroke="#15120c" stroke-width="0.95" stroke-dasharray="3.7 3.4 20"/>
<circle cx="477.40" cy="409.24" r="2.55" fill="#8b96a4" stroke="#15120c" stroke-width="0.95"/>
<path d="M474.85,342.04 h5.1" fill="none" stroke="#15120c" stroke-width="0.95"/>
<path d="M474.85,341.59 V409.24 M479.95,341.59 V409.24" fill="none" stroke="#15120c" stroke-width="0.95" stroke-dasharray="5 3 9.5 2.5 9.5 2.5 9.5 2.5 9.5 2.5 9.5 2.5 20"/>
<circle cx="354.4" cy="262.2" r="1.5" fill="#f01818"/>
<circle cx="330.0" cy="262.1" r="1.5" fill="#f01818"/>
<circle cx="315.5" cy="260.9" r="1.5" fill="#f01818"/>
<circle cx="302.8" cy="259.7" r="1.5" fill="#f01818"/>
<circle cx="279.3" cy="256.5" r="1.5" fill="#f01818"/>
<circle cx="260.7" cy="253.5" r="1.5" fill="#f01818"/>
<text x="260.00" y="262.00" font-size="7.2" text-anchor="middle" fill="#3e2800" font-weight="normal" >P6</text>
<text x="279.50" y="265.50" font-size="7.2" text-anchor="middle" fill="#3e2800" font-weight="normal" >P5</text>
<text x="302.50" y="268.50" font-size="7.2" text-anchor="middle" fill="#3e2800" font-weight="normal" >P4</text>
<text x="315.50" y="270.50" font-size="7.2" text-anchor="middle" fill="#3e2800" font-weight="normal" >P3</text>
<text x="330.00" y="270.50" font-size="7.2" text-anchor="middle" fill="#3e2800" font-weight="normal" >P2</text>
<text x="354.50" y="270.50" font-size="7.2" text-anchor="middle" fill="#3e2800" font-weight="normal" >P1</text>
<text x="24.00" y="266.10" font-size="8.799999999999999" text-anchor="start" fill="#000" font-weight="normal" transform="rotate(-26.57 24.0 266.1)">Upstream slope (1:2)</text>
<text x="292.30" y="224.30" font-size="8.5" text-anchor="start" fill="#000" font-weight="normal" transform="rotate(29.05 292.3 224.3)">Downstream slope (1:1.8)</text>
<circle cx="354.4" cy="411.6" r="1.5" fill="#f01818"/>
<circle cx="330.0" cy="411.4" r="1.5" fill="#f01818"/>
<circle cx="315.5" cy="410.3" r="1.5" fill="#f01818"/>
<circle cx="302.8" cy="409.1" r="1.5" fill="#f01818"/>
<circle cx="279.3" cy="405.9" r="1.5" fill="#f01818"/>
<circle cx="260.7" cy="402.9" r="1.5" fill="#f01818"/>
<circle cx="232.2" cy="395.9" r="1.5" fill="#f01818"/>
<circle cx="204.3" cy="384.7" r="1.5" fill="#f01818"/>
<circle cx="179.6" cy="355.6" r="1.5" fill="#f01818"/>
<text x="173.00" y="362.90" font-size="7.2" text-anchor="middle" fill="#3e2800" font-weight="normal" >P9</text>
<text x="200.00" y="393.90" font-size="7.2" text-anchor="middle" fill="#3e2800" font-weight="normal" >P8</text>
<text x="228.00" y="405.40" font-size="7.2" text-anchor="middle" fill="#3e2800" font-weight="normal" >P7</text>
<text x="259.00" y="412.40" font-size="7.2" text-anchor="middle" fill="#3e2800" font-weight="normal" >P6</text>
<text x="279.50" y="415.90" font-size="7.2" text-anchor="middle" fill="#3e2800" font-weight="normal" >P5</text>
<text x="303.00" y="418.90" font-size="7.2" text-anchor="middle" fill="#3e2800" font-weight="normal" >P4</text>
<text x="316.00" y="420.90" font-size="7.2" text-anchor="middle" fill="#3e2800" font-weight="normal" >P3</text>
<text x="330.00" y="420.90" font-size="7.2" text-anchor="middle" fill="#3e2800" font-weight="normal" >P2</text>
<text x="354.50" y="420.90" font-size="7.2" text-anchor="middle" fill="#3e2800" font-weight="normal" >P1</text>
<rect x="268.4" y="395.5" width="25.2" height="21" fill="none" stroke="#f52a10" stroke-width="1.15" stroke-dasharray="3.6 1.65"/>
<line x1="268.4" y1="395.6" x2="297.6" y2="365.3" stroke="#f8533e" stroke-width="0.7"/>
<line x1="293.4" y1="395.6" x2="366.8" y2="365.3" stroke="#f8533e" stroke-width="0.7"/>
<clipPath id="ins"><rect x="297.6" y="318.3" width="69.20" height="47.00"/></clipPath>
<rect x="297.6" y="318.3" width="69.20" height="47.00" fill="#f4b04c"/>
<g clip-path="url(#ins)">
<clipPath id="insb"><polygon points="295.60,322.50 297.43,322.50 299.26,322.76 301.09,323.05 302.92,323.34 304.75,323.62 306.58,323.91 308.41,324.19 310.24,324.47 312.07,324.75 313.90,325.02 315.73,325.29 317.56,325.55 319.39,325.81 321.22,326.07 323.05,326.32 324.88,326.57 326.71,326.81 328.54,327.04 330.37,327.28 332.20,327.50 334.03,327.72 335.86,327.93 337.69,328.14 339.52,328.34 341.35,328.54 343.18,328.74 345.01,328.92 346.84,329.11 348.67,329.29 350.50,329.46 352.33,329.63 354.16,329.80 355.99,329.96 357.82,330.13 359.65,330.29 361.48,330.45 363.31,330.60 365.14,330.76 366.97,330.90 368.80,330.90 368.80,359.10 366.97,359.10 365.14,358.98 363.31,358.84 361.48,358.70 359.65,358.56 357.82,358.42 355.99,358.27 354.16,358.13 352.33,357.98 350.50,357.83 348.67,357.67 346.84,357.51 345.01,357.34 343.18,357.17 341.35,357.00 339.52,356.82 337.69,356.64 335.86,356.45 334.03,356.25 332.20,356.05 330.37,355.84 328.54,355.63 326.71,355.41 324.88,355.19 323.05,354.96 321.22,354.73 319.39,354.49 317.56,354.25 315.73,354.00 313.90,353.75 312.07,353.50 310.24,353.24 308.41,352.98 306.58,352.72 304.75,352.45 302.92,352.18 301.09,351.91 299.26,351.64 297.43,351.40 295.60,351.40"/></clipPath>
<polygon points="295.60,322.50 297.43,322.50 299.26,322.76 301.09,323.05 302.92,323.34 304.75,323.62 306.58,323.91 308.41,324.19 310.24,324.47 312.07,324.75 313.90,325.02 315.73,325.29 317.56,325.55 319.39,325.81 321.22,326.07 323.05,326.32 324.88,326.57 326.71,326.81 328.54,327.04 330.37,327.28 332.20,327.50 334.03,327.72 335.86,327.93 337.69,328.14 339.52,328.34 341.35,328.54 343.18,328.74 345.01,328.92 346.84,329.11 348.67,329.29 350.50,329.46 352.33,329.63 354.16,329.80 355.99,329.96 357.82,330.13 359.65,330.29 361.48,330.45 363.31,330.60 365.14,330.76 366.97,330.90 368.80,330.90 368.80,359.10 366.97,359.10 365.14,358.98 363.31,358.84 361.48,358.70 359.65,358.56 357.82,358.42 355.99,358.27 354.16,358.13 352.33,357.98 350.50,357.83 348.67,357.67 346.84,357.51 345.01,357.34 343.18,357.17 341.35,357.00 339.52,356.82 337.69,356.64 335.86,356.45 334.03,356.25 332.20,356.05 330.37,355.84 328.54,355.63 326.71,355.41 324.88,355.19 323.05,354.96 321.22,354.73 319.39,354.49 317.56,354.25 315.73,354.00 313.90,353.75 312.07,353.50 310.24,353.24 308.41,352.98 306.58,352.72 304.75,352.45 302.92,352.18 301.09,351.91 299.26,351.64 297.43,351.40 295.60,351.40" fill="#cfcfcf"/>
<g clip-path="url(#insb)" stroke="#4c4c4c" stroke-width="0.4">
<path d="M316.8,344.7Q316.3,345.3 315.8,345.9Q315.3,346.5 313.8,346.7Q312.3,346.9 310.8,347.1Q309.3,347.3 308.2,345.8Q307.1,344.4 306.0,343.0Q304.9,341.6 305.0,340.8Q305.2,339.9 306.4,338.8Q307.6,337.7 308.8,336.6Q310.1,335.5 310.8,335.5Q311.6,335.5 312.4,335.5Q313.2,335.5 314.3,337.0Q315.5,338.4 316.6,339.9Q317.8,341.3 317.5,342.7Q317.2,344.1 316.8,344.7Z" fill="#d0d0d0"/>
<path d="M318.1,314.6Q319.8,314.8 321.5,315.1Q323.2,315.3 323.4,318.4Q323.6,321.4 323.7,324.5Q323.9,327.6 323.1,328.2Q322.3,328.8 321.5,329.5Q320.7,330.1 319.4,330.0Q318.0,330.0 316.7,329.9Q315.4,329.8 314.3,328.7Q313.2,327.5 312.0,326.3Q310.9,325.2 312.3,322.5Q313.6,319.7 315.0,317.0Q316.3,314.3 318.1,314.6Z" fill="#dadada"/>
<path d="M319.0,340.0Q318.8,339.5 319.4,338.2Q319.9,336.9 320.7,337.2Q321.4,337.4 322.2,337.7Q322.9,337.9 322.7,338.7Q322.4,339.4 322.1,340.1Q321.9,340.8 320.5,340.7Q319.1,340.6 319.0,340.0Z" fill="#d0d0d0"/>
<path d="M326.6,348.0Q327.5,347.9 328.4,347.8Q329.2,347.7 329.8,348.3Q330.4,349.0 330.9,349.7Q331.5,350.4 330.9,351.0Q330.3,351.6 329.7,352.2Q329.1,352.8 327.9,352.9Q326.7,352.9 326.4,352.5Q326.0,352.2 325.9,351.1Q325.9,350.1 325.8,349.1Q325.7,348.1 326.6,348.0Z" fill="#d6d6d6"/>
<path d="M363.3,352.4Q362.7,351.8 362.0,351.2Q361.3,350.5 361.0,349.0Q360.7,347.5 360.4,346.0Q360.2,344.5 360.2,344.4Q360.2,344.4 361.7,343.5Q363.1,342.5 364.6,341.6Q366.1,340.7 367.0,341.4Q368.0,342.0 369.0,342.7Q370.0,343.4 369.8,344.9Q369.7,346.4 369.5,347.9Q369.3,349.4 368.4,350.2Q367.5,351.1 366.7,352.0Q365.8,352.9 364.9,352.9Q364.0,353.0 363.3,352.4Z" fill="#d0d0d0"/>
<path d="M298.9,354.8Q298.8,356.5 298.7,358.2Q298.7,359.9 298.5,359.9Q298.3,359.9 297.6,358.4Q296.9,356.9 296.2,355.3Q295.5,353.8 296.4,353.3Q297.4,352.9 298.1,353.0Q298.9,353.1 298.9,354.8Z" fill="#dedede"/>
<path d="M374.7,371.4Q373.9,372.4 370.6,372.3Q367.2,372.2 363.8,372.1Q360.5,372.0 360.6,368.9Q360.8,365.9 361.0,362.8Q361.2,359.8 361.9,359.3Q362.6,358.8 363.4,358.4Q364.1,357.9 365.3,357.9Q366.4,357.9 367.5,357.9Q368.6,357.9 370.3,361.0Q372.0,364.2 373.7,367.3Q375.4,370.4 374.7,371.4Z" fill="#dedede"/>
<path d="M292.0,344.3Q292.0,345.4 290.4,346.3Q288.8,347.2 287.3,348.1Q285.7,349.0 284.6,348.3Q283.6,347.6 283.6,346.1Q283.5,344.6 283.5,343.0Q283.5,341.5 284.2,341.1Q284.9,340.6 285.6,340.2Q286.4,339.8 287.8,340.6Q289.2,341.5 290.6,342.4Q292.0,343.3 292.0,344.3Z" fill="#d0d0d0"/>
<path d="M296.2,312.3Q297.1,312.3 297.9,312.3Q298.8,312.3 298.8,313.8Q298.8,315.4 298.8,317.0Q298.8,318.5 298.0,318.7Q297.2,318.9 296.2,318.6Q295.2,318.3 295.2,316.8Q295.3,315.3 295.3,313.8Q295.4,312.3 296.2,312.3Z" fill="#d0d0d0"/>
<path d="M359.4,362.3Q358.4,364.6 357.3,366.9Q356.3,369.2 355.0,369.3Q353.8,369.3 352.6,366.5Q351.5,363.7 350.3,360.9Q349.2,358.1 350.0,356.9Q350.7,355.6 351.7,355.2Q352.7,354.7 353.7,354.3Q354.7,353.8 355.6,354.3Q356.4,354.8 357.3,355.2Q358.1,355.7 358.7,356.8Q359.3,357.8 359.9,358.9Q360.5,359.9 359.4,362.3Z" fill="#dadada"/>
<path d="M354.5,342.8Q353.2,343.5 351.9,344.2Q350.6,344.9 349.7,344.7Q348.7,344.5 348.0,343.8Q347.3,343.1 346.7,342.4Q346.0,341.8 345.8,340.9Q345.6,340.0 346.0,338.9Q346.4,337.8 346.7,336.8Q347.1,335.7 348.3,335.2Q349.5,334.8 350.7,334.3Q351.8,333.9 352.9,334.4Q354.0,334.9 355.1,335.4Q356.2,335.9 356.2,335.9Q356.2,335.9 356.1,337.5Q356.0,339.0 355.9,340.5Q355.8,342.0 354.5,342.8Z" fill="#d0d0d0"/>
<path d="M346.4,353.5Q345.9,354.3 345.4,355.1Q344.8,355.8 343.9,356.0Q343.0,356.2 342.4,355.4Q341.8,354.6 341.1,353.8Q340.5,353.1 341.0,352.3Q341.5,351.6 342.0,350.9Q342.5,350.2 343.6,350.8Q344.8,351.5 345.9,352.1Q347.0,352.7 346.4,353.5Z" fill="#d6d6d6"/>
<path d="M336.8,324.0Q337.5,325.9 338.2,327.9Q338.9,329.8 338.1,330.4Q337.2,330.9 336.4,331.4Q335.6,332.0 334.3,331.5Q333.0,330.9 331.7,330.4Q330.5,329.9 330.2,329.2Q329.8,328.5 329.5,327.7Q329.2,327.0 331.0,325.8Q332.7,324.5 334.4,323.3Q336.1,322.0 336.8,324.0Z" fill="#dadada"/>
<path d="M309.0,361.4Q308.4,361.1 308.9,360.0Q309.4,358.8 309.9,357.6Q310.4,356.5 310.5,356.5Q310.6,356.5 311.2,356.9Q311.8,357.2 311.2,358.3Q310.7,359.4 310.2,360.5Q309.7,361.6 309.0,361.4Z" fill="#dadada"/>
<path d="M341.2,316.9Q344.1,317.2 347.0,317.5Q350.0,317.8 349.8,320.6Q349.6,323.5 349.4,326.3Q349.2,329.2 349.2,329.2Q349.1,329.3 346.8,329.6Q344.6,330.0 342.3,330.3Q340.1,330.7 339.9,330.6Q339.7,330.5 339.3,327.1Q338.9,323.6 338.5,320.2Q338.1,316.8 338.2,316.7Q338.3,316.6 341.2,316.9Z" fill="#d6d6d6"/>
<path d="M345.2,340.8Q345.3,341.5 344.4,343.0Q343.4,344.5 342.4,346.0Q341.5,347.5 341.0,347.4Q340.4,347.3 339.3,346.6Q338.1,345.8 336.9,345.0Q335.8,344.2 335.9,342.8Q336.0,341.4 336.0,340.0Q336.1,338.6 337.1,337.7Q338.1,336.8 339.0,336.9Q339.9,337.1 340.7,337.2Q341.6,337.4 342.5,338.0Q343.3,338.7 344.2,339.4Q345.0,340.1 345.2,340.8Z" fill="#dedede"/>
<path d="M349.7,356.2Q349.2,357.0 348.6,357.7Q348.1,358.5 348.0,358.5Q347.9,358.5 347.2,357.9Q346.6,357.2 346.0,356.6Q345.3,356.0 345.8,355.3Q346.3,354.7 346.7,354.0Q347.2,353.4 347.4,353.4Q347.7,353.3 348.3,353.9Q349.0,354.4 349.6,354.9Q350.3,355.4 349.7,356.2Z" fill="#e4e4e4"/>
<path d="M338.6,365.1Q337.3,365.1 336.0,365.1Q334.6,365.1 334.2,362.7Q333.8,360.4 333.3,358.0Q332.9,355.6 333.6,354.7Q334.3,353.8 335.0,352.8Q335.7,351.9 335.7,351.9Q335.7,351.9 336.7,352.2Q337.7,352.4 338.7,352.6Q339.8,352.9 340.5,353.8Q341.2,354.7 341.9,355.5Q342.6,356.4 341.9,358.6Q341.2,360.8 340.5,363.0Q339.9,365.1 338.6,365.1Z" fill="#dadada"/>
<path d="M365.3,340.0Q364.2,340.0 363.4,339.1Q362.5,338.2 363.1,337.0Q363.6,335.7 364.4,335.8Q365.2,335.9 365.9,336.0Q366.7,336.0 366.8,336.1Q366.9,336.2 366.8,337.2Q366.7,338.1 366.5,339.0Q366.4,339.9 365.3,340.0Z" fill="#dedede"/>
<path d="M333.2,336.3Q333.7,337.0 334.3,337.7Q334.8,338.5 334.7,338.5Q334.7,338.6 334.0,338.8Q333.3,339.1 332.6,339.4Q331.9,339.6 331.4,339.0Q330.9,338.4 330.4,337.8Q329.9,337.1 330.4,336.4Q330.9,335.6 331.8,335.6Q332.7,335.6 333.2,336.3Z" fill="#e0e0e0"/>
<path d="M335.5,351.0Q334.5,351.1 333.8,350.8Q333.1,350.4 333.4,349.0Q333.7,347.6 334.0,346.2Q334.3,344.8 334.4,344.6Q334.5,344.5 334.8,344.4Q335.0,344.3 335.9,345.0Q336.9,345.7 337.8,346.3Q338.8,347.0 338.2,348.0Q337.6,349.0 337.1,350.0Q336.5,351.0 335.5,351.0Z" fill="#dedede"/>
<path d="M355.1,320.1Q356.2,320.2 357.5,322.9Q358.8,325.6 360.0,328.3Q361.3,331.0 359.9,332.0Q358.5,332.9 357.1,333.8Q355.6,334.8 354.7,334.4Q353.7,334.0 352.7,333.6Q351.7,333.2 351.3,332.1Q350.9,331.0 350.4,329.9Q350.0,328.9 351.0,326.7Q352.0,324.5 353.0,322.3Q354.1,320.1 355.1,320.1Z" fill="#d6d6d6"/>
<path d="M312.9,327.9Q313.7,328.8 314.5,329.7Q315.4,330.6 315.1,331.7Q314.9,332.8 314.7,333.9Q314.4,335.0 313.2,335.0Q312.0,335.0 310.8,335.0Q309.6,335.0 309.1,333.8Q308.6,332.6 308.1,331.5Q307.6,330.3 308.7,329.5Q309.8,328.7 310.9,327.8Q312.0,327.0 312.9,327.9Z" fill="#e0e0e0"/>
<path d="M309.3,348.7Q309.4,348.7 309.9,349.5Q310.3,350.2 310.8,350.9Q311.2,351.7 309.7,354.1Q308.2,356.5 306.7,358.9Q305.2,361.2 304.4,361.0Q303.7,360.9 302.9,360.7Q302.2,360.5 301.6,358.1Q301.1,355.8 300.5,353.4Q299.9,351.1 300.8,350.4Q301.8,349.7 302.7,348.9Q303.6,348.2 305.0,348.3Q306.4,348.4 307.8,348.5Q309.2,348.6 309.3,348.7Z" fill="#e4e4e4"/>
<path d="M303.8,343.7Q303.8,343.7 303.7,344.7Q303.7,345.6 303.6,346.6Q303.6,347.5 302.7,348.3Q301.7,349.0 300.8,349.8Q299.8,350.6 299.1,350.2Q298.4,349.9 297.7,349.5Q297.0,349.2 296.5,348.0Q296.0,346.7 296.3,345.6Q296.6,344.5 297.0,343.4Q297.3,342.3 298.9,342.6Q300.5,343.0 302.1,343.3Q303.8,343.7 303.8,343.7Z" fill="#d0d0d0"/>
<path d="M301.2,329.1Q301.2,329.2 299.9,329.2Q298.6,329.2 297.4,329.2Q296.1,329.2 295.6,328.5Q295.1,327.8 294.7,327.0Q294.2,326.3 294.2,325.9Q294.3,325.6 295.2,324.8Q296.0,323.9 296.9,323.1Q297.8,322.3 298.9,322.2Q300.0,322.2 300.5,322.8Q300.9,323.4 301.0,324.8Q301.1,326.2 301.2,327.7Q301.3,329.1 301.2,329.1Z" fill="#dadada"/>
<path d="M327.7,347.3Q326.6,347.5 325.4,347.6Q324.3,347.7 324.1,347.6Q323.9,347.5 323.5,345.8Q323.2,344.1 322.9,342.4Q322.5,340.8 323.1,339.6Q323.7,338.5 324.2,337.4Q324.8,336.3 325.7,336.4Q326.7,336.5 327.6,336.6Q328.6,336.6 329.3,337.4Q330.0,338.2 330.6,339.0Q331.3,339.8 331.5,340.9Q331.8,342.0 332.0,343.1Q332.2,344.2 331.3,344.9Q330.5,345.7 329.6,346.4Q328.8,347.2 327.7,347.3Z" fill="#e0e0e0"/>
<path d="M362.7,316.8Q365.9,316.9 369.0,317.0Q372.1,317.0 372.6,318.3Q373.0,319.6 371.4,321.7Q369.8,323.8 368.1,326.0Q366.5,328.1 365.7,328.0Q364.9,327.9 364.1,327.8Q363.3,327.7 362.3,325.1Q361.3,322.4 360.3,319.7Q359.3,317.1 359.5,316.9Q359.6,316.7 362.7,316.8Z" fill="#e4e4e4"/>
<path d="M296.6,338.1Q295.8,337.6 295.0,337.2Q294.2,336.8 294.0,335.8Q293.9,334.8 293.8,333.8Q293.6,332.8 294.3,332.3Q295.0,331.8 296.0,332.4Q296.9,333.0 297.8,333.5Q298.8,334.1 298.9,335.5Q299.0,336.9 298.2,337.7Q297.4,338.5 296.6,338.1Z" fill="#d6d6d6"/>
<path d="M377.3,322.9Q378.1,323.2 379.0,323.6Q379.8,323.9 379.8,326.3Q379.8,328.6 379.8,330.9Q379.7,333.2 377.6,333.0Q375.4,332.8 373.3,332.6Q371.1,332.4 370.5,331.3Q370.0,330.3 371.6,328.3Q373.2,326.4 374.9,324.4Q376.5,322.5 377.3,322.9Z" fill="#dadada"/>
<path d="M328.2,325.7Q327.8,326.4 326.7,326.6Q325.6,326.8 325.2,326.6Q324.8,326.4 325.1,325.2Q325.4,324.1 325.7,322.9Q325.9,321.7 326.6,322.5Q327.2,323.4 327.9,324.2Q328.5,325.0 328.2,325.7Z" fill="#e4e4e4"/>
<path d="M341.1,336.7Q340.4,336.6 339.6,336.4Q338.8,336.3 338.8,336.2Q338.7,336.2 339.3,335.3Q339.8,334.3 340.3,333.4Q340.9,332.5 341.6,332.7Q342.3,332.9 342.8,333.6Q343.4,334.3 342.7,335.6Q341.9,336.8 341.1,336.7Z" fill="#dedede"/>
<path d="M320.1,367.0Q317.7,366.8 315.2,366.5Q312.8,366.3 313.1,363.7Q313.4,361.0 313.7,358.4Q314.1,355.8 315.5,355.3Q316.9,354.9 318.4,354.5Q319.8,354.1 320.8,354.9Q321.8,355.6 322.8,356.4Q323.9,357.2 323.5,359.7Q323.2,362.2 322.9,364.8Q322.5,367.3 320.1,367.0Z" fill="#dadada"/>
<path d="M322.0,329.8Q322.8,329.3 323.6,328.7Q324.4,328.1 324.7,328.3Q325.0,328.4 325.2,329.3Q325.4,330.2 325.5,331.1Q325.7,332.0 325.2,332.6Q324.6,333.1 323.2,332.6Q321.9,332.1 321.6,331.3Q321.3,330.4 322.0,329.8Z" fill="#e4e4e4"/>
<path d="M308.2,336.2Q307.3,337.0 306.3,337.8Q305.4,338.6 303.9,338.0Q302.4,337.4 300.9,336.8Q299.5,336.2 299.4,335.2Q299.4,334.2 299.9,333.1Q300.4,332.0 301.0,330.8Q301.5,329.7 301.6,329.6Q301.7,329.5 302.8,329.4Q303.9,329.3 305.0,329.2Q306.1,329.1 306.4,329.2Q306.7,329.4 307.3,330.9Q307.9,332.4 308.6,333.9Q309.2,335.4 308.2,336.2Z" fill="#e4e4e4"/>
<path d="M313.6,354.1Q312.7,353.1 312.7,352.5Q312.6,351.9 313.3,351.1Q313.9,350.4 314.5,349.7Q315.2,348.9 316.2,349.7Q317.3,350.4 318.3,351.1Q319.4,351.8 319.4,352.1Q319.4,352.4 318.2,353.0Q316.9,353.7 315.7,354.4Q314.5,355.0 313.6,354.1Z" fill="#d0d0d0"/>
<path d="M350.1,333.9Q349.2,334.3 348.3,334.7Q347.4,335.1 347.1,334.8Q346.9,334.5 347.0,333.7Q347.1,333.0 347.2,332.2Q347.3,331.4 348.4,330.9Q349.4,330.4 349.8,331.2Q350.2,332.0 350.6,332.7Q351.0,333.5 350.1,333.9Z" fill="#d6d6d6"/>
<path d="M304.6,328.7Q303.6,328.8 302.7,328.9Q301.7,329.0 301.7,327.6Q301.8,326.2 301.8,324.8Q301.8,323.3 303.0,323.7Q304.2,324.1 305.4,324.5Q306.6,324.9 306.4,325.8Q306.1,326.8 305.9,327.7Q305.6,328.7 304.6,328.7Z" fill="#d0d0d0"/>
<path d="M377.6,339.1Q377.5,340.0 375.9,340.8Q374.3,341.7 372.7,342.5Q371.1,343.4 370.4,342.6Q369.7,341.8 369.0,341.0Q368.2,340.3 368.4,339.2Q368.5,338.2 368.7,337.2Q368.8,336.2 368.9,336.0Q369.1,335.9 371.2,336.5Q373.3,337.1 375.5,337.7Q377.6,338.2 377.6,339.1Z" fill="#dadada"/>
<path d="M306.1,311.3Q308.4,311.5 310.7,311.8Q313.0,312.1 312.4,315.0Q311.9,318.0 311.4,321.0Q310.8,323.9 310.0,324.1Q309.3,324.3 308.5,324.5Q307.7,324.6 306.2,323.8Q304.6,323.0 303.1,322.1Q301.5,321.3 302.1,318.7Q302.7,316.1 303.2,313.6Q303.8,311.0 306.1,311.3Z" fill="#dedede"/>
<path d="M379.2,361.3Q379.2,362.5 379.1,363.8Q379.1,365.0 378.0,365.5Q376.9,365.9 376.1,364.6Q375.3,363.2 374.5,361.9Q373.7,360.5 373.7,360.5Q373.7,360.5 375.1,360.4Q376.5,360.3 377.9,360.1Q379.3,360.0 379.2,361.3Z" fill="#d0d0d0"/>
<path d="M360.9,351.0Q361.6,351.6 362.3,352.3Q363.0,352.9 362.9,353.5Q362.8,354.0 361.9,354.4Q361.0,354.8 360.1,355.2Q359.2,355.6 358.4,355.1Q357.6,354.6 356.8,354.1Q356.0,353.6 356.1,352.5Q356.2,351.5 357.2,351.2Q358.2,350.9 359.2,350.6Q360.2,350.4 360.9,351.0Z" fill="#e4e4e4"/>
<path d="M296.1,341.1Q295.6,341.6 294.6,341.1Q293.7,340.5 292.8,340.0Q291.8,339.5 292.3,338.9Q292.8,338.4 293.3,337.8Q293.9,337.2 294.6,337.6Q295.4,338.0 296.1,338.4Q296.9,338.9 296.7,339.7Q296.6,340.6 296.1,341.1Z" fill="#d6d6d6"/>
<path d="M325.6,333.1Q326.1,332.4 326.9,332.4Q327.7,332.4 328.6,332.3Q329.4,332.3 329.7,333.7Q330.1,335.2 329.8,335.7Q329.5,336.1 328.5,336.0Q327.5,335.9 326.5,335.8Q325.6,335.7 325.4,334.8Q325.2,333.8 325.6,333.1Z" fill="#dedede"/>
<path d="M355.9,346.1Q355.3,346.9 354.5,346.6Q353.7,346.2 353.0,345.9Q352.2,345.5 352.0,345.1Q351.8,344.7 352.7,344.2Q353.6,343.7 354.5,343.2Q355.4,342.7 356.0,344.0Q356.6,345.3 355.9,346.1Z" fill="#e4e4e4"/>
<path d="M329.7,365.6Q328.6,365.6 327.5,365.7Q326.4,365.7 325.9,363.5Q325.4,361.4 324.9,359.2Q324.3,357.1 325.1,356.3Q325.9,355.5 326.7,354.7Q327.5,353.9 327.8,353.8Q328.2,353.8 329.3,354.4Q330.3,355.0 331.3,355.7Q332.4,356.3 332.0,358.6Q331.6,360.9 331.2,363.2Q330.8,365.5 329.7,365.6Z" fill="#dedede"/>
<path d="M348.7,364.7Q349.2,365.6 349.6,366.5Q350.0,367.4 349.5,368.0Q348.9,368.6 347.4,368.4Q346.0,368.2 346.1,367.1Q346.2,366.1 346.4,365.0Q346.5,364.0 347.2,363.9Q347.8,363.7 348.0,363.7Q348.3,363.8 348.7,364.7Z" fill="#e4e4e4"/>
<path d="M303.3,340.1Q303.2,340.9 303.0,341.6Q302.8,342.4 301.5,342.2Q300.3,342.0 299.0,341.9Q297.7,341.7 297.5,341.0Q297.2,340.4 297.3,340.0Q297.4,339.6 297.9,338.9Q298.5,338.2 299.1,337.5Q299.7,336.9 300.7,337.5Q301.6,338.1 302.6,338.7Q303.5,339.4 303.3,340.1Z" fill="#e4e4e4"/>
<path d="M354.9,352.3Q354.8,353.2 353.7,353.6Q352.7,354.1 351.7,354.6Q350.6,355.1 350.0,354.5Q349.3,353.8 348.6,353.2Q348.0,352.5 348.6,351.2Q349.2,350.0 350.2,349.6Q351.2,349.3 352.1,349.8Q353.1,350.4 354.0,350.9Q355.0,351.4 354.9,352.3Z" fill="#dadada"/>
<path d="M380.4,345.3Q380.4,346.5 380.4,347.6Q380.4,348.8 379.4,349.0Q378.3,349.2 377.2,349.4Q376.2,349.6 375.3,348.6Q374.4,347.6 374.4,346.4Q374.4,345.3 375.8,344.9Q377.3,344.6 378.7,344.2Q380.2,343.9 380.3,344.0Q380.4,344.2 380.4,345.3Z" fill="#e0e0e0"/>
<path d="M346.4,336.1Q346.0,337.0 345.6,337.9Q345.2,338.8 344.5,338.4Q343.8,338.0 343.2,337.5Q342.5,337.1 343.2,335.8Q343.9,334.5 345.2,334.7Q346.5,334.9 346.6,335.1Q346.8,335.2 346.4,336.1Z" fill="#d6d6d6"/>
<path d="M346.3,343.0Q346.9,343.6 347.6,344.2Q348.2,344.7 347.7,345.6Q347.2,346.5 346.3,346.4Q345.4,346.4 344.5,346.3Q343.6,346.2 344.1,345.3Q344.6,344.3 345.1,343.4Q345.6,342.5 346.3,343.0Z" fill="#dedede"/>
<path d="M315.8,347.0Q316.4,346.3 316.9,345.6Q317.5,344.9 318.6,345.5Q319.6,346.1 320.7,346.7Q321.8,347.3 321.9,347.4Q321.9,347.6 321.5,348.4Q321.0,349.2 320.6,350.1Q320.2,350.9 319.8,351.0Q319.5,351.0 318.4,350.3Q317.3,349.7 316.3,349.1Q315.2,348.5 315.2,348.1Q315.2,347.7 315.8,347.0Z" fill="#e0e0e0"/>
<path d="M338.3,335.5Q338.0,335.6 337.4,334.9Q336.8,334.2 336.2,333.5Q335.6,332.8 335.6,332.7Q335.6,332.6 336.3,332.1Q337.0,331.7 337.7,331.2Q338.4,330.7 339.3,331.5Q340.2,332.3 339.8,333.1Q339.4,333.9 339.1,334.7Q338.7,335.5 338.3,335.5Z" fill="#e4e4e4"/>
<path d="M321.4,336.7Q320.1,336.4 319.8,335.9Q319.6,335.5 320.0,334.8Q320.5,334.0 320.9,333.3Q321.4,332.6 321.5,332.6Q321.6,332.5 322.3,332.9Q323.0,333.2 323.8,333.5Q324.5,333.8 324.5,334.6Q324.6,335.4 323.7,336.2Q322.8,336.9 321.4,336.7Z" fill="#e0e0e0"/>
<path d="M323.8,348.3Q325.0,348.9 324.9,350.2Q324.9,351.5 323.5,351.9Q322.1,352.2 321.3,351.8Q320.6,351.4 320.6,351.3Q320.6,351.1 321.0,350.3Q321.4,349.5 321.8,348.7Q322.2,347.9 322.5,347.8Q322.7,347.6 323.8,348.3Z" fill="#d0d0d0"/>
<path d="M363.3,341.6Q362.5,342.2 361.7,342.7Q360.9,343.2 360.3,342.3Q359.7,341.5 360.1,340.3Q360.6,339.2 361.3,338.9Q362.1,338.6 362.6,339.2Q363.1,339.8 363.6,340.4Q364.1,341.1 363.3,341.6Z" fill="#d6d6d6"/>
<path d="M368.8,354.2Q368.6,354.1 367.8,353.2Q367.1,352.3 367.8,351.7Q368.4,351.1 369.1,350.4Q369.8,349.8 370.4,350.3Q371.0,350.8 371.6,351.4Q372.2,351.9 371.4,352.5Q370.6,353.1 369.9,353.7Q369.1,354.3 368.8,354.2Z" fill="#d6d6d6"/>
<path d="M294.4,328.8Q295.2,329.7 295.1,330.5Q295.0,331.2 293.8,331.7Q292.7,332.1 292.0,331.7Q291.4,331.3 290.7,330.8Q290.1,330.4 291.0,329.7Q291.9,329.1 292.7,328.4Q293.6,327.8 294.4,328.8Z" fill="#dedede"/>
<path d="M346.0,334.0Q345.8,334.2 344.8,334.1Q343.8,334.0 343.2,333.3Q342.7,332.7 342.2,332.1Q341.7,331.4 341.7,331.4Q341.7,331.4 341.7,331.2Q341.8,331.1 342.9,331.0Q344.0,331.0 345.0,330.9Q346.1,330.8 346.2,332.2Q346.2,333.7 346.0,334.0Z" fill="#dadada"/>
<path d="M294.8,350.4Q293.7,351.3 293.0,350.8Q292.2,350.4 291.4,349.9Q290.7,349.5 291.7,348.9Q292.7,348.3 293.7,347.8Q294.8,347.2 295.3,348.3Q295.8,349.4 294.8,350.4Z" fill="#dedede"/>
<path d="M367.0,357.2Q366.1,357.1 365.2,357.1Q364.3,357.1 364.0,356.0Q363.7,354.8 363.9,354.3Q364.1,353.8 364.9,353.7Q365.6,353.6 366.4,353.4Q367.2,353.3 367.8,354.1Q368.4,354.8 368.5,355.6Q368.6,356.3 368.3,356.8Q368.0,357.2 367.0,357.2Z" fill="#e0e0e0"/>
<path d="M330.7,317.7Q331.9,317.7 332.1,318.6Q332.3,319.5 332.5,320.4Q332.6,321.4 331.4,321.9Q330.1,322.5 330.1,322.5Q330.0,322.5 329.2,321.9Q328.4,321.4 328.7,320.5Q328.9,319.5 329.2,318.5Q329.5,317.6 330.7,317.7Z" fill="#dadada"/>
<path d="M340.4,347.9Q341.6,348.0 341.8,349.0Q341.9,350.0 341.1,351.2Q340.3,352.4 339.0,351.8Q337.7,351.2 338.0,350.3Q338.4,349.5 338.7,348.6Q339.1,347.8 340.4,347.9Z" fill="#d0d0d0"/>
<path d="M316.9,339.1Q316.2,338.3 315.6,337.4Q315.0,336.6 315.4,336.0Q315.8,335.4 316.6,335.5Q317.4,335.6 318.2,335.8Q319.1,335.9 319.3,336.3Q319.5,336.7 319.2,337.5Q318.8,338.3 318.4,339.1Q318.1,339.9 317.8,339.9Q317.5,340.0 316.9,339.1Z" fill="#d6d6d6"/>
<path d="M360.1,346.5Q360.3,347.6 360.5,348.7Q360.7,349.8 359.5,350.0Q358.3,350.2 357.0,350.5Q355.8,350.7 355.8,349.9Q355.7,349.0 355.7,348.2Q355.7,347.3 356.3,346.5Q357.0,345.7 358.4,345.6Q359.9,345.5 360.1,346.5Z" fill="#e0e0e0"/>
<path d="M289.5,334.7Q289.5,335.5 289.0,336.2Q288.5,336.8 287.6,336.6Q286.6,336.4 285.7,336.2Q284.8,336.0 284.8,334.8Q284.7,333.5 285.4,333.0Q286.0,332.4 286.9,332.8Q287.7,333.1 288.6,333.5Q289.4,333.9 289.5,334.7Z" fill="#dadada"/>
<path d="M310.3,326.2Q310.8,327.4 310.1,327.9Q309.4,328.4 308.7,328.9Q308.0,329.4 307.1,328.9Q306.2,328.4 306.4,327.7Q306.6,327.0 306.7,326.3Q306.9,325.5 308.4,325.3Q309.9,325.0 310.3,326.2Z" fill="#dedede"/>
<path d="M286.6,314.2Q287.3,314.1 288.1,314.0Q288.9,313.9 289.1,314.8Q289.4,315.6 289.6,316.5Q289.8,317.4 289.4,317.8Q289.0,318.3 288.1,318.2Q287.3,318.0 286.4,317.9Q285.6,317.8 285.6,316.9Q285.7,316.0 285.8,315.1Q285.8,314.3 286.6,314.2Z" fill="#d6d6d6"/>
<path d="M359.7,344.1Q359.3,345.0 358.2,345.1Q357.1,345.1 356.6,344.1Q356.1,343.0 356.5,342.4Q356.9,341.8 358.1,341.8Q359.2,341.8 359.7,342.5Q360.1,343.2 359.7,344.1Z" fill="#d0d0d0"/>
<path d="M310.7,347.5Q311.8,347.4 313.0,347.3Q314.1,347.2 314.3,348.0Q314.5,348.8 313.9,349.4Q313.2,350.0 312.6,350.6Q311.9,351.2 311.3,350.4Q310.7,349.5 310.1,348.7Q309.5,347.8 309.5,347.7Q309.6,347.7 310.7,347.5Z" fill="#e0e0e0"/>
<path d="M318.0,343.7Q318.2,342.9 318.4,342.1Q318.6,341.3 319.5,341.4Q320.4,341.4 321.3,341.4Q322.2,341.4 322.5,342.7Q322.7,344.0 323.0,345.4Q323.3,346.7 322.8,346.9Q322.4,347.2 321.2,346.5Q320.1,345.8 318.9,345.2Q317.7,344.5 318.0,343.7Z" fill="#e4e4e4"/>
<path d="M335.2,333.5Q335.5,333.4 336.1,334.1Q336.7,334.8 337.3,335.5Q337.9,336.2 337.3,336.8Q336.7,337.3 336.1,337.9Q335.5,338.5 335.3,338.4Q335.1,338.4 334.6,337.6Q334.1,336.9 333.6,336.1Q333.0,335.4 334.0,334.4Q334.9,333.5 335.2,333.5Z" fill="#e4e4e4"/>
<path d="M289.9,326.2Q289.9,326.6 289.0,327.1Q288.1,327.7 287.2,328.2Q286.3,328.8 285.7,328.2Q285.1,327.7 285.1,326.5Q285.1,325.2 286.1,325.1Q287.2,325.0 288.2,324.9Q289.3,324.7 289.6,325.3Q289.9,325.9 289.9,326.2Z" fill="#dadada"/>
<path d="M331.4,348.9Q330.9,348.3 330.4,347.7Q329.8,347.1 330.5,346.5Q331.2,345.8 331.9,345.1Q332.6,344.5 333.1,344.6Q333.6,344.8 333.8,345.0Q333.9,345.3 333.6,346.3Q333.4,347.4 333.1,348.4Q332.8,349.5 332.4,349.5Q331.9,349.5 331.4,348.9Z" fill="#dadada"/>
<path d="M330.2,352.6Q330.7,352.0 331.3,351.3Q331.8,350.6 332.1,350.6Q332.4,350.6 333.5,351.5Q334.7,352.4 334.1,353.1Q333.4,353.7 332.8,354.4Q332.2,355.1 331.6,354.6Q330.9,354.2 330.3,353.7Q329.6,353.3 330.2,352.6Z" fill="#d0d0d0"/>
<path d="M315.2,334.6Q315.0,334.4 315.3,333.4Q315.5,332.4 315.7,331.4Q315.9,330.4 317.1,330.4Q318.2,330.5 319.4,330.6Q320.6,330.6 320.9,331.3Q321.2,332.1 320.7,332.9Q320.1,333.7 319.6,334.6Q319.0,335.4 318.1,335.2Q317.2,335.1 316.3,334.9Q315.4,334.7 315.2,334.6Z" fill="#d6d6d6"/>
<path d="M306.4,344.5Q307.1,345.4 307.9,346.3Q308.6,347.2 308.4,347.5Q308.3,347.8 307.3,347.7Q306.3,347.7 305.3,347.7Q304.3,347.7 304.3,346.8Q304.4,346.0 304.4,345.1Q304.5,344.3 305.1,343.9Q305.7,343.6 306.4,344.5Z" fill="#e4e4e4"/>
<path d="M326.1,328.4Q326.5,327.8 327.6,327.5Q328.7,327.2 329.0,328.1Q329.4,328.9 329.8,329.8Q330.2,330.6 329.8,331.1Q329.5,331.6 328.7,331.6Q327.9,331.7 327.1,331.7Q326.3,331.7 326.0,330.4Q325.8,329.0 326.1,328.4Z" fill="#e4e4e4"/>
<path d="M362.6,336.7Q362.0,338.0 361.4,338.3Q360.7,338.5 359.9,338.2Q359.1,337.8 358.2,337.5Q357.4,337.1 357.2,336.2Q356.9,335.2 357.9,334.5Q358.9,333.8 359.9,333.1Q360.9,332.4 361.6,332.8Q362.3,333.2 362.7,334.3Q363.1,335.4 362.6,336.7Z" fill="#d0d0d0"/>
<path d="M348.2,345.9Q348.7,345.0 349.4,345.2Q350.2,345.3 350.9,345.5Q351.7,345.7 351.7,345.7Q351.7,345.7 351.5,346.5Q351.4,347.2 351.2,348.0Q351.1,348.7 350.1,349.0Q349.0,349.3 348.4,348.0Q347.7,346.7 348.2,345.9Z" fill="#dedede"/>
<path d="M365.0,335.4Q363.7,335.3 363.3,334.3Q362.8,333.3 363.1,332.4Q363.5,331.6 364.3,331.6Q365.1,331.6 365.9,331.6Q366.7,331.6 367.1,333.0Q367.6,334.4 367.0,335.0Q366.4,335.5 365.0,335.4Z" fill="#e0e0e0"/>
<path d="M356.4,340.3Q356.4,339.3 356.5,338.4Q356.6,337.4 356.7,337.4Q356.8,337.3 357.7,337.7Q358.5,338.0 359.4,338.4Q360.2,338.7 359.7,340.0Q359.2,341.3 357.7,341.3Q356.3,341.3 356.4,340.3Z" fill="#dadada"/>
<path d="M346.9,359.3Q346.8,360.0 346.0,360.4Q345.3,360.8 344.5,361.2Q343.8,361.6 343.7,360.5Q343.6,359.4 343.5,358.3Q343.4,357.2 344.2,356.9Q345.1,356.7 346.1,357.7Q347.0,358.7 346.9,359.3Z" fill="#dadada"/>
<path d="M362.5,354.6Q362.6,354.7 363.1,356.1Q363.6,357.5 362.2,358.2Q360.9,358.9 360.5,358.2Q360.0,357.6 359.6,356.9Q359.1,356.2 360.0,355.8Q360.8,355.4 361.6,355.0Q362.5,354.6 362.5,354.6Z" fill="#d6d6d6"/>
<path d="M345.8,351.3Q344.7,350.7 343.6,350.1Q342.4,349.5 342.3,348.7Q342.1,347.8 342.6,347.5Q343.1,347.2 344.1,347.1Q345.1,347.0 346.1,347.0Q347.2,346.9 347.5,347.6Q347.8,348.4 348.2,349.1Q348.5,349.8 347.8,350.9Q347.0,351.9 345.8,351.3Z" fill="#dadada"/>
<path d="M355.2,350.5Q355.1,350.7 354.9,350.7Q354.7,350.8 353.9,350.3Q353.1,349.9 352.3,349.4Q351.5,349.0 351.9,347.7Q352.3,346.5 352.5,346.4Q352.6,346.3 353.9,346.8Q355.1,347.4 355.2,348.1Q355.2,348.9 355.3,349.6Q355.4,350.4 355.2,350.5Z" fill="#d0d0d0"/>
<path d="M292.0,356.3Q292.4,357.5 292.7,358.7Q293.1,359.9 292.8,360.3Q292.5,360.7 291.2,360.6Q289.9,360.6 288.6,360.6Q287.4,360.5 287.3,359.4Q287.3,358.3 287.2,357.1Q287.2,356.0 288.4,355.3Q289.6,354.7 290.6,354.9Q291.7,355.1 292.0,356.3Z" fill="#e0e0e0"/>
<path d="M295.2,320.6Q295.8,321.2 296.4,321.7Q297.1,322.3 296.4,323.0Q295.7,323.6 295.0,324.3Q294.4,324.9 293.8,324.4Q293.2,323.8 292.6,323.2Q292.0,322.7 292.6,322.0Q293.3,321.3 293.9,320.7Q294.5,320.0 295.2,320.6Z" fill="#d0d0d0"/>
<path d="M325.7,353.0Q326.1,353.6 325.6,354.3Q325.0,354.9 324.5,355.6Q323.9,356.2 323.2,355.5Q322.5,354.7 321.7,353.9Q321.0,353.1 321.1,353.0Q321.1,352.8 322.2,352.7Q323.2,352.6 324.3,352.4Q325.3,352.3 325.7,353.0Z" fill="#dadada"/>
<path d="M332.0,331.3Q332.8,331.7 333.7,332.0Q334.6,332.4 334.7,332.6Q334.7,332.9 333.7,334.0Q332.7,335.1 331.8,335.1Q331.0,335.2 330.9,335.1Q330.9,335.1 330.7,334.3Q330.4,333.6 330.2,332.8Q330.0,332.0 330.5,331.5Q331.1,331.0 332.0,331.3Z" fill="#e4e4e4"/>
<path d="M332.7,339.9Q333.4,339.7 334.2,339.5Q334.9,339.2 335.2,339.4Q335.5,339.5 335.4,340.5Q335.4,341.5 335.4,342.6Q335.4,343.6 334.5,343.9Q333.6,344.2 333.1,344.0Q332.6,343.8 332.5,342.9Q332.3,342.0 332.1,341.1Q331.9,340.2 332.7,339.9Z" fill="#e4e4e4"/>
<path d="M298.3,332.9Q297.5,332.4 296.8,331.9Q296.0,331.4 296.2,330.5Q296.3,329.6 297.4,329.6Q298.5,329.6 299.6,329.6Q300.7,329.6 300.8,329.7Q300.9,329.9 300.4,330.7Q300.0,331.6 299.5,332.5Q299.0,333.4 298.3,332.9Z" fill="#d6d6d6"/>
<path d="M377.5,354.2Q377.6,354.6 376.4,354.9Q375.1,355.2 373.9,355.4Q372.7,355.7 372.6,355.4Q372.5,355.0 372.4,354.8Q372.4,354.5 373.2,353.3Q374.0,352.0 374.9,352.5Q375.7,352.9 376.6,353.3Q377.5,353.8 377.5,354.2Z" fill="#dadada"/>
</g>
<polyline points="295.60,322.50 297.43,322.50 299.26,322.76 301.09,323.05 302.92,323.34 304.75,323.62 306.58,323.91 308.41,324.19 310.24,324.47 312.07,324.75 313.90,325.02 315.73,325.29 317.56,325.55 319.39,325.81 321.22,326.07 323.05,326.32 324.88,326.57 326.71,326.81 328.54,327.04 330.37,327.28 332.20,327.50 334.03,327.72 335.86,327.93 337.69,328.14 339.52,328.34 341.35,328.54 343.18,328.74 345.01,328.92 346.84,329.11 348.67,329.29 350.50,329.46 352.33,329.63 354.16,329.80 355.99,329.96 357.82,330.13 359.65,330.29 361.48,330.45 363.31,330.60 365.14,330.76 366.97,330.90 368.80,330.90" fill="none" stroke="#222" stroke-width="0.8"/>
<polyline points="295.60,351.40 297.43,351.40 299.26,351.64 301.09,351.91 302.92,352.18 304.75,352.45 306.58,352.72 308.41,352.98 310.24,353.24 312.07,353.50 313.90,353.75 315.73,354.00 317.56,354.25 319.39,354.49 321.22,354.73 323.05,354.96 324.88,355.19 326.71,355.41 328.54,355.63 330.37,355.84 332.20,356.05 334.03,356.25 335.86,356.45 337.69,356.64 339.52,356.82 341.35,357.00 343.18,357.17 345.01,357.34 346.84,357.51 348.67,357.67 350.50,357.83 352.33,357.98 354.16,358.13 355.99,358.27 357.82,358.42 359.65,358.56 361.48,358.70 363.31,358.84 365.14,358.98 366.97,359.10 368.80,359.10" fill="none" stroke="#222" stroke-width="0.8"/>
</g>
<rect x="297.6" y="318.3" width="69.20" height="47.00" fill="none" stroke="#2a2a2a" stroke-width="0.9"/>
<circle cx="329.7" cy="356.4" r="3.25" fill="#f01818"/>
<text x="257.50" y="331.20" font-size="8.9" text-anchor="start" fill="#000" font-weight="normal" >Gravel</text>
<line x1="284.00" y1="331.00" x2="300.00" y2="341.50" stroke="#000" stroke-width="0.8" marker-end="url(#ah)"/>
<text x="334.50" y="390.00" font-size="8.799999999999999" text-anchor="start" fill="#000" font-weight="normal" >Geotextile</text>
<line x1="351.00" y1="381.50" x2="347.20" y2="360.30" stroke="#000" stroke-width="0.8" marker-end="url(#ah)"/>
</svg>
</body></html>
